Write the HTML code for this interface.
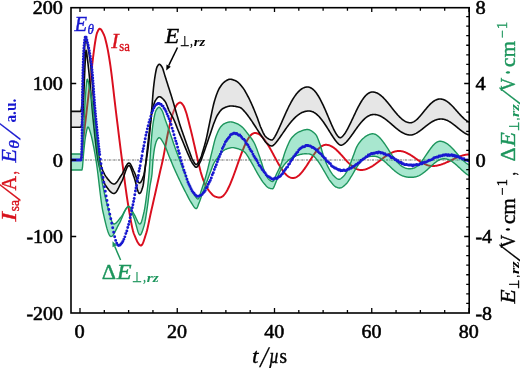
<!DOCTYPE html>
<html><head><meta charset="utf-8"><title>plot</title>
<style>html,body{margin:0;padding:0;background:#fff}svg{display:block}</style></head>
<body>
<svg width="520" height="368" viewBox="0 0 520 368">
<rect width="520" height="368" fill="#fff"/>
<clipPath id="c"><rect x="71.0" y="7.7" width="398.2" height="305.3"/></clipPath>
<g clip-path="url(#c)">
<line x1="71.0" y1="160.0" x2="469.2" y2="160.0" stroke="#111" stroke-width="0.65" stroke-dasharray="2.2 0.9 0.7 0.9"/>
<path d="M71.00,160.00 L71.50,160.00 L72.00,160.00 L72.50,160.00 L73.00,160.00 L73.50,160.00 L74.00,160.00 L74.50,160.00 L75.00,160.00 L75.50,160.00 L76.00,160.00 L76.50,160.00 L77.00,160.00 L77.50,160.00 L78.00,160.00 L78.50,160.00 L79.00,160.00 L79.50,160.00 L80.00,160.00 L80.50,159.55 L81.00,158.50 L81.50,155.88 L82.00,151.25 L82.50,145.86 L83.00,141.00 L83.50,136.92 L84.00,132.97 L84.50,129.03 L85.00,125.00 L85.50,120.82 L86.00,116.56 L86.50,112.27 L87.00,108.00 L87.50,103.73 L88.00,99.44 L88.50,95.18 L89.00,91.00 L89.50,86.95 L90.00,83.00 L90.50,79.05 L91.00,75.00 L91.50,70.77 L92.00,66.43 L92.50,62.12 L93.00,58.00 L93.50,53.98 L94.00,50.01 L94.50,46.28 L95.00,43.00 L95.50,39.98 L96.00,37.11 L96.50,34.68 L97.00,33.00 L97.50,31.82 L98.00,30.74 L98.50,29.83 L99.00,29.16 L99.50,28.80 L100.00,28.78 L100.50,29.03 L101.00,29.50 L101.50,30.14 L102.00,30.94 L102.50,31.86 L103.00,32.87 L103.50,33.92 L104.00,35.00 L104.50,36.25 L105.00,37.82 L105.50,39.64 L106.00,41.65 L106.50,43.79 L107.00,46.00 L107.50,48.35 L108.00,50.93 L108.50,53.71 L109.00,56.67 L109.50,59.77 L110.00,63.00 L110.50,66.41 L111.00,70.06 L111.50,73.92 L112.00,77.94 L112.50,82.10 L113.00,86.36 L113.50,90.68 L114.00,95.03 L114.50,99.37 L115.00,103.67 L115.50,107.89 L116.00,112.00 L116.50,116.05 L117.00,120.11 L117.50,124.17 L118.00,128.23 L118.50,132.28 L119.00,136.32 L119.50,140.35 L120.00,144.35 L120.50,148.32 L121.00,152.25 L121.50,156.15 L122.00,160.00 L122.50,163.85 L123.00,167.75 L123.50,171.66 L124.00,175.57 L124.50,179.45 L125.00,183.28 L125.50,187.04 L126.00,190.71 L126.50,194.26 L127.00,197.67 L127.50,200.93 L128.00,204.00 L128.50,206.99 L129.00,210.00 L129.50,213.00 L130.00,215.95 L130.50,218.82 L131.00,221.58 L131.50,224.20 L132.00,226.64 L132.50,228.87 L133.00,230.86 L133.50,232.58 L134.00,234.00 L134.50,235.25 L135.00,236.48 L135.50,237.68 L136.00,238.84 L136.50,239.94 L137.00,240.98 L137.50,241.94 L138.00,242.81 L138.50,243.59 L139.00,244.24 L139.50,244.77 L140.00,245.17 L140.50,245.42 L141.00,245.50 L141.50,245.31 L142.00,244.79 L142.50,243.97 L143.00,242.90 L143.50,241.64 L144.00,240.22 L144.50,238.70 L145.00,237.13 L145.50,235.55 L146.00,234.00 L146.50,232.36 L147.00,230.48 L147.50,228.41 L148.00,226.19 L148.50,223.86 L149.00,221.46 L149.50,219.03 L150.00,216.62 L150.50,214.26 L151.00,212.00 L151.50,209.80 L152.00,207.61 L152.50,205.42 L153.00,203.22 L153.50,201.03 L154.00,198.84 L154.50,196.64 L155.00,194.43 L155.50,192.22 L156.00,190.00 L156.50,187.76 L157.00,185.51 L157.50,183.25 L158.00,180.98 L158.50,178.72 L159.00,176.46 L159.50,174.22 L160.00,172.00 L160.50,169.84 L161.00,167.73 L161.50,165.64 L162.00,163.52 L162.50,161.32 L163.00,159.00 L163.50,156.51 L164.00,153.87 L164.50,151.14 L165.00,148.38 L165.50,145.65 L166.00,143.00 L166.50,140.41 L167.00,137.80 L167.50,135.23 L168.00,132.72 L168.50,130.30 L169.00,128.00 L169.50,125.79 L170.00,123.62 L170.50,121.53 L171.00,119.55 L171.50,117.69 L172.00,116.00 L172.50,114.43 L173.00,112.94 L173.50,111.54 L174.00,110.25 L174.50,109.06 L175.00,108.00 L175.50,107.02 L176.00,106.08 L176.50,105.23 L177.00,104.52 L177.50,104.00 L178.00,103.59 L178.50,103.21 L179.00,102.88 L179.50,102.64 L180.00,102.51 L180.50,102.54 L181.00,102.79 L181.50,103.20 L182.00,103.74 L182.50,104.36 L183.00,105.00 L183.50,105.77 L184.00,106.75 L184.50,107.91 L185.00,109.20 L185.50,110.58 L186.00,112.00 L186.50,113.54 L187.00,115.27 L187.50,117.13 L188.00,119.08 L188.50,121.05 L189.00,123.00 L189.50,124.93 L190.00,126.89 L190.50,128.87 L191.00,130.89 L191.50,132.93 L192.00,135.00 L192.50,137.11 L193.00,139.26 L193.50,141.44 L194.00,143.63 L194.50,145.82 L195.00,148.00 L195.50,150.18 L196.00,152.37 L196.50,154.56 L197.00,156.74 L197.50,158.89 L198.00,161.00 L198.50,163.10 L199.00,165.23 L199.50,167.33 L200.00,169.35 L200.50,171.26 L201.00,173.00 L201.50,174.62 L202.00,176.19 L202.50,177.69 L203.00,179.12 L203.50,180.48 L204.00,181.75 L204.50,182.93 L205.00,184.00 L205.50,185.00 L206.00,185.96 L206.50,186.87 L207.00,187.73 L207.50,188.56 L208.00,189.34 L208.50,190.07 L209.00,190.76 L209.50,191.40 L210.00,192.00 L210.50,192.58 L211.00,193.15 L211.50,193.71 L212.00,194.24 L212.50,194.75 L213.00,195.22 L213.50,195.63 L214.00,195.99 L214.50,196.28 L215.00,196.50 L215.50,196.67 L216.00,196.84 L216.50,196.99 L217.00,197.13 L217.50,197.26 L218.00,197.36 L218.50,197.43 L219.00,197.48 L219.50,197.50 L220.00,197.47 L220.50,197.37 L221.00,197.22 L221.50,197.00 L222.00,196.71 L222.50,196.37 L223.00,195.97 L223.50,195.50 L224.00,194.98 L224.50,194.39 L225.00,193.75 L225.50,193.06 L226.00,192.31 L226.50,191.51 L227.00,190.65 L227.50,189.75 L228.00,188.80 L228.50,187.80 L229.00,186.76 L229.50,185.67 L230.00,184.55 L230.50,183.39 L231.00,182.19 L231.50,180.96 L232.00,179.70 L232.50,178.41 L233.00,177.10 L233.50,175.76 L234.00,174.40 L234.50,173.02 L235.00,171.63 L235.50,170.22 L236.00,168.81 L236.50,167.39 L237.00,165.96 L237.50,164.54 L238.00,163.11 L238.50,161.69 L239.00,160.28 L239.50,158.87 L240.00,157.48 L240.50,156.10 L241.00,154.74 L241.50,153.40 L242.00,152.09 L242.50,150.80 L243.00,149.54 L243.50,148.31 L244.00,147.11 L244.50,145.95 L245.00,144.83 L245.50,143.74 L246.00,142.70 L246.50,141.70 L247.00,140.75 L247.50,139.85 L248.00,138.99 L248.50,138.19 L249.00,137.44 L249.50,136.75 L250.00,136.11 L250.50,135.52 L251.00,135.00 L251.50,134.53 L252.00,134.13 L252.50,133.79 L253.00,133.50 L253.50,133.28 L254.00,133.13 L254.50,133.03 L255.00,133.00 L255.50,133.02 L256.00,133.08 L256.50,133.17 L257.00,133.31 L257.50,133.48 L258.00,133.70 L258.50,133.95 L259.00,134.23 L259.50,134.56 L260.00,134.91 L260.50,135.31 L261.00,135.74 L261.50,136.20 L262.00,136.70 L262.50,137.23 L263.00,137.79 L263.50,138.38 L264.00,139.01 L264.50,139.66 L265.00,140.33 L265.50,141.04 L266.00,141.77 L266.50,142.52 L267.00,143.29 L267.50,144.09 L268.00,144.90 L268.50,145.74 L269.00,146.59 L269.50,147.45 L270.00,148.33 L270.50,149.23 L271.00,150.13 L271.50,151.04 L272.00,151.96 L272.50,152.89 L273.00,153.82 L273.50,154.75 L274.00,155.69 L274.50,156.62 L275.00,157.55 L275.50,158.48 L276.00,159.41 L276.50,160.32 L277.00,161.23 L277.50,162.13 L278.00,163.02 L278.50,163.89 L279.00,164.75 L279.50,165.60 L280.00,166.42 L280.50,167.23 L281.00,168.02 L281.50,168.79 L282.00,169.53 L282.50,170.25 L283.00,170.94 L283.50,171.61 L284.00,172.25 L284.50,172.86 L285.00,173.44 L285.50,173.98 L286.00,174.50 L286.50,174.99 L287.00,175.44 L287.50,175.85 L288.00,176.23 L288.50,176.58 L289.00,176.89 L289.50,177.16 L290.00,177.39 L290.50,177.59 L291.00,177.75 L291.50,177.87 L292.00,177.95 L292.50,177.99 L292.80,178.00 L293.30,177.98 L293.80,177.93 L294.30,177.83 L294.80,177.70 L295.30,177.54 L295.80,177.34 L296.30,177.10 L296.80,176.83 L297.30,176.52 L297.80,176.18 L298.30,175.80 L298.80,175.40 L299.30,174.96 L299.80,174.49 L300.30,173.99 L300.80,173.47 L301.30,172.91 L301.80,172.34 L302.30,171.73 L302.80,171.11 L303.30,170.46 L303.80,169.79 L304.30,169.10 L304.80,168.40 L305.30,167.68 L305.80,166.95 L306.30,166.20 L306.80,165.44 L307.30,164.68 L307.80,163.90 L308.30,163.12 L308.80,162.34 L309.30,161.56 L309.80,160.77 L310.30,159.99 L310.80,159.21 L311.30,158.43 L311.80,157.66 L312.30,156.90 L312.80,156.15 L313.30,155.41 L313.80,154.69 L314.30,153.98 L314.80,153.28 L315.30,152.61 L315.80,151.95 L316.30,151.32 L316.80,150.70 L317.30,150.11 L317.80,149.55 L318.30,149.01 L318.80,148.51 L319.30,148.03 L319.80,147.58 L320.30,147.16 L320.80,146.77 L321.30,146.41 L321.80,146.09 L322.30,145.81 L322.80,145.56 L323.30,145.34 L323.80,145.16 L324.30,145.01 L324.80,144.91 L325.30,144.84 L325.80,144.80 L326.00,144.80 L326.50,144.81 L327.00,144.85 L327.50,144.91 L328.00,145.00 L328.50,145.12 L329.00,145.25 L329.50,145.42 L330.00,145.60 L330.50,145.81 L331.00,146.05 L331.50,146.30 L332.00,146.58 L332.50,146.88 L333.00,147.21 L333.50,147.55 L334.00,147.91 L334.50,148.29 L335.00,148.69 L335.50,149.11 L336.00,149.54 L336.50,149.99 L337.00,150.46 L337.50,150.94 L338.00,151.43 L338.50,151.93 L339.00,152.45 L339.50,152.97 L340.00,153.51 L340.50,154.05 L341.00,154.60 L341.50,155.15 L342.00,155.71 L342.50,156.27 L343.00,156.83 L343.50,157.40 L344.00,157.97 L344.50,158.53 L345.00,159.09 L345.50,159.65 L346.00,160.20 L346.50,160.75 L347.00,161.29 L347.50,161.83 L348.00,162.35 L348.50,162.87 L349.00,163.37 L349.50,163.86 L350.00,164.34 L350.50,164.81 L351.00,165.26 L351.50,165.69 L352.00,166.11 L352.50,166.51 L353.00,166.89 L353.50,167.25 L354.00,167.59 L354.50,167.92 L355.00,168.22 L355.50,168.50 L356.00,168.75 L356.50,168.99 L357.00,169.20 L357.50,169.38 L358.00,169.55 L358.50,169.68 L359.00,169.80 L359.50,169.89 L360.00,169.95 L360.50,169.99 L361.00,170.00 L361.50,169.99 L362.00,169.97 L362.50,169.93 L363.00,169.87 L363.50,169.80 L364.00,169.71 L364.50,169.61 L365.00,169.49 L365.50,169.35 L366.00,169.20 L366.50,169.03 L367.00,168.86 L367.50,168.66 L368.00,168.45 L368.50,168.23 L369.00,168.00 L369.50,167.75 L370.00,167.49 L370.50,167.22 L371.00,166.93 L371.50,166.64 L372.00,166.34 L372.50,166.02 L373.00,165.70 L373.50,165.36 L374.00,165.02 L374.50,164.67 L375.00,164.32 L375.50,163.95 L376.00,163.58 L376.50,163.21 L377.00,162.83 L377.50,162.45 L378.00,162.06 L378.50,161.68 L379.00,161.28 L379.50,160.89 L380.00,160.50 L380.50,160.11 L381.00,159.72 L381.50,159.32 L382.00,158.94 L382.50,158.55 L383.00,158.17 L383.50,157.79 L384.00,157.42 L384.50,157.05 L385.00,156.68 L385.50,156.33 L386.00,155.98 L386.50,155.64 L387.00,155.30 L387.50,154.98 L388.00,154.66 L388.50,154.36 L389.00,154.07 L389.50,153.78 L390.00,153.51 L390.50,153.25 L391.00,153.00 L391.50,152.77 L392.00,152.55 L392.50,152.34 L393.00,152.14 L393.50,151.97 L394.00,151.80 L394.50,151.65 L395.00,151.51 L395.50,151.39 L396.00,151.29 L396.50,151.20 L397.00,151.13 L397.50,151.07 L398.00,151.03 L398.50,151.01 L399.00,151.00 L399.50,151.01 L400.00,151.03 L400.50,151.07 L401.00,151.13 L401.50,151.21 L402.00,151.29 L402.50,151.40 L403.00,151.52 L403.50,151.66 L404.00,151.81 L404.50,151.98 L405.00,152.16 L405.50,152.35 L406.00,152.56 L406.50,152.78 L407.00,153.01 L407.50,153.26 L408.00,153.52 L408.50,153.78 L409.00,154.06 L409.50,154.35 L410.00,154.65 L410.50,154.95 L411.00,155.27 L411.50,155.59 L412.00,155.92 L412.50,156.25 L413.00,156.59 L413.50,156.93 L414.00,157.27 L414.50,157.62 L415.00,157.97 L415.50,158.32 L416.00,158.68 L416.50,159.03 L417.00,159.38 L417.50,159.73 L418.00,160.07 L418.50,160.41 L419.00,160.75 L419.50,161.08 L420.00,161.41 L420.50,161.73 L421.00,162.05 L421.50,162.35 L422.00,162.65 L422.50,162.94 L423.00,163.22 L423.50,163.48 L424.00,163.74 L424.50,163.99 L425.00,164.22 L425.50,164.44 L426.00,164.65 L426.50,164.84 L427.00,165.02 L427.50,165.19 L428.00,165.34 L428.50,165.48 L429.00,165.60 L429.50,165.71 L430.00,165.79 L430.50,165.87 L431.00,165.93 L431.50,165.97 L432.00,165.99 L432.50,166.00 L433.00,165.99 L433.50,165.98 L434.00,165.95 L434.50,165.92 L435.00,165.87 L435.50,165.82 L436.00,165.75 L436.50,165.68 L437.00,165.59 L437.50,165.50 L438.00,165.40 L438.50,165.28 L439.00,165.16 L439.50,165.03 L440.00,164.89 L440.50,164.75 L441.00,164.59 L441.50,164.43 L442.00,164.26 L442.50,164.08 L443.00,163.90 L443.50,163.71 L444.00,163.51 L444.50,163.31 L445.00,163.10 L445.50,162.89 L446.00,162.67 L446.50,162.45 L447.00,162.22 L447.50,161.99 L448.00,161.76 L448.50,161.52 L449.00,161.29 L449.50,161.05 L450.00,160.81 L450.50,160.56 L451.00,160.32 L451.50,160.08 L452.00,159.84 L452.50,159.59 L453.00,159.35 L453.50,159.11 L454.00,158.88 L454.50,158.64 L455.00,158.41 L455.50,158.18 L456.00,157.95 L456.50,157.73 L457.00,157.51 L457.50,157.30 L458.00,157.09 L458.50,156.89 L459.00,156.69 L459.50,156.50 L460.00,156.32 L460.50,156.14 L461.00,155.97 L461.50,155.81 L462.00,155.65 L462.50,155.51 L463.00,155.37 L463.50,155.24 L464.00,155.12 L464.50,155.00 L465.00,154.90 L465.50,154.81 L466.00,154.72 L466.50,154.65 L467.00,154.58 L467.50,154.53 L468.00,154.48 L468.50,154.45 L469.00,154.42" fill="none" stroke="#da0e1e" stroke-width="1.95" stroke-linejoin="round"/>
<path d="M71.00,111.40 L71.50,111.40 L72.00,111.40 L72.50,111.40 L73.00,111.40 L73.50,111.40 L74.00,111.40 L74.50,111.40 L75.00,111.40 L75.50,111.40 L76.00,111.40 L76.50,111.40 L77.00,111.40 L77.50,111.40 L78.00,111.40 L78.50,111.40 L79.00,111.40 L79.50,111.40 L80.00,111.40 L80.50,111.40 L81.00,110.73 L81.50,108.21 L82.00,104.14 L82.50,98.47 L83.00,82.96 L83.50,67.59 L84.00,56.25 L84.50,48.00 L85.00,42.33 L85.50,38.30 L86.00,37.67 L86.50,39.31 L87.00,41.89 L87.50,44.49 L88.00,47.05 L88.50,49.82 L89.00,52.83 L89.50,56.10 L90.00,59.65 L90.50,63.52 L91.00,67.79 L91.50,73.05 L92.00,79.15 L92.50,85.81 L93.00,92.73 L93.50,99.60 L94.00,106.12 L94.50,112.00 L95.00,117.58 L95.50,123.33 L96.00,129.12 L96.50,134.83 L97.00,140.31 L97.50,145.46 L98.00,150.13 L98.50,154.19 L99.00,157.53 L99.50,160.00 L100.00,161.93 L100.50,163.73 L101.00,165.41 L101.50,166.97 L102.00,168.41 L102.50,169.75 L103.00,170.99 L103.50,172.13 L104.00,173.19 L104.50,174.16 L105.00,175.06 L105.50,175.88 L106.00,176.64 L106.50,177.35 L107.00,178.00 L107.50,178.63 L108.00,179.26 L108.50,179.87 L109.00,180.47 L109.50,181.05 L110.00,181.59 L110.50,182.10 L111.00,182.56 L111.50,182.97 L112.00,183.32 L112.50,183.61 L113.00,183.82 L113.50,183.95 L114.00,184.00 L114.50,183.93 L115.00,183.72 L115.50,183.39 L116.00,182.96 L116.50,182.43 L117.00,181.82 L117.50,181.14 L118.00,180.42 L118.50,179.65 L119.00,178.86 L119.50,178.05 L120.00,177.25 L120.50,176.47 L121.00,175.71 L121.50,175.00 L122.00,174.25 L122.50,173.39 L123.00,172.44 L123.50,171.42 L124.00,170.37 L124.50,169.29 L125.00,168.23 L125.50,167.21 L126.00,166.24 L126.50,165.35 L127.00,164.57 L127.50,163.92 L128.00,163.42 L128.50,163.11 L129.00,163.00 L129.50,163.15 L130.00,163.58 L130.50,164.25 L131.00,165.09 L131.50,166.08 L132.00,167.16 L132.50,168.29 L133.00,169.42 L133.50,170.50 L134.00,171.50 L134.50,172.54 L135.00,173.76 L135.50,175.08 L136.00,176.47 L136.50,177.86 L137.00,179.19 L137.50,180.41 L138.00,181.46 L138.50,182.28 L139.00,182.81 L139.50,183.00 L140.00,182.85 L140.50,182.43 L141.00,181.76 L141.50,180.89 L142.00,179.84 L142.50,178.66 L143.00,177.36 L143.50,176.00 L144.00,174.14 L144.50,171.54 L145.00,168.46 L145.50,165.19 L146.00,162.00 L146.50,158.95 L147.00,155.82 L147.50,152.48 L148.00,148.79 L148.50,144.56 L149.00,139.71 L149.50,134.47 L150.00,129.08 L150.50,123.59 L151.00,117.84 L151.50,111.93 L152.00,106.00 L152.50,99.74 L153.00,93.40 L153.50,88.00 L154.00,83.63 L154.50,79.74 L155.00,76.35 L155.50,73.45 L156.00,70.77 L156.50,68.48 L157.00,67.00 L157.50,66.11 L158.00,65.35 L158.50,64.76 L159.00,64.40 L159.50,64.31 L160.00,64.50 L160.50,64.93 L161.00,65.53 L161.50,66.24 L162.00,67.00 L162.50,67.98 L163.00,69.33 L163.50,70.92 L164.00,72.64 L164.50,74.37 L165.00,76.00 L165.50,77.54 L166.00,79.10 L166.50,80.68 L167.00,82.26 L167.50,83.84 L168.00,85.42 L168.50,87.00 L169.00,88.56 L169.50,90.11 L170.00,91.66 L170.50,93.22 L171.00,94.79 L171.50,96.38 L172.00,98.00 L172.50,99.66 L173.00,101.36 L173.50,103.09 L174.00,104.83 L174.50,106.56 L175.00,108.29 L175.50,110.00 L176.00,111.70 L176.50,113.40 L177.00,115.11 L177.50,116.81 L178.00,118.50 L178.50,120.18 L179.00,121.82 L179.50,123.43 L180.00,125.00 L180.50,126.53 L181.00,128.02 L181.50,129.49 L182.00,130.93 L182.50,132.36 L183.00,133.77 L183.50,135.18 L184.00,136.59 L184.50,138.00 L185.00,139.42 L185.50,140.84 L186.00,142.25 L186.50,143.66 L187.00,145.06 L187.50,146.45 L188.00,147.82 L188.50,149.17 L189.00,150.50 L189.50,151.85 L190.00,153.23 L190.50,154.63 L191.00,155.99 L191.50,157.30 L192.00,158.50 L192.50,159.58 L193.00,160.50 L193.50,161.35 L194.00,162.21 L194.50,163.01 L195.00,163.70 L195.50,164.21 L196.00,164.47 L196.50,164.45 L197.00,164.17 L197.50,163.68 L198.00,163.02 L198.50,162.21 L199.00,161.32 L199.50,160.36 L200.00,159.39 L200.50,158.37 L201.00,157.11 L201.50,155.64 L202.00,154.03 L202.50,152.34 L203.00,150.66 L203.50,149.02 L204.00,147.35 L204.50,145.62 L205.00,143.84 L205.50,141.97 L206.00,140.00 L206.50,137.89 L207.00,135.62 L207.50,133.23 L208.00,130.78 L208.50,128.28 L209.00,125.80 L209.50,123.35 L210.00,121.00 L210.50,118.66 L211.00,116.27 L211.50,113.85 L212.00,111.45 L212.50,109.11 L213.00,106.85 L213.50,104.72 L214.00,102.76 L214.50,101.00 L215.00,99.37 L215.50,97.80 L216.00,96.28 L216.50,94.84 L217.00,93.46 L217.50,92.17 L218.00,90.97 L218.50,89.87 L219.00,88.88 L219.50,88.00 L220.00,87.20 L220.50,86.44 L221.00,85.71 L221.50,85.02 L222.00,84.38 L222.50,83.78 L223.00,83.22 L223.50,82.71 L224.00,82.26 L224.50,81.85 L225.00,81.50 L225.50,81.17 L226.00,80.85 L226.50,80.54 L227.00,80.24 L227.50,79.97 L228.00,79.73 L228.50,79.53 L229.00,79.38 L229.50,79.28 L230.00,79.25 L230.50,79.27 L231.00,79.32 L231.50,79.40 L232.00,79.51 L232.50,79.64 L233.00,79.79 L233.50,79.96 L234.00,80.15 L234.50,80.35 L235.00,80.56 L235.50,80.78 L236.00,81.00 L236.50,81.25 L237.00,81.56 L237.50,81.91 L238.00,82.31 L238.50,82.75 L239.00,83.23 L239.50,83.74 L240.00,84.28 L240.50,84.85 L241.00,85.43 L241.50,86.03 L242.00,86.64 L242.50,87.25 L243.00,87.90 L243.50,88.60 L244.00,89.36 L244.50,90.16 L245.00,91.00 L245.50,91.87 L246.00,92.77 L246.50,93.69 L247.00,94.62 L247.50,95.56 L248.00,96.50 L248.50,97.46 L249.00,98.44 L249.50,99.46 L250.00,100.50 L250.50,101.57 L251.00,102.65 L251.50,103.76 L252.00,104.87 L252.50,106.00 L253.00,107.15 L253.50,108.31 L254.00,109.51 L254.50,110.72 L255.00,111.95 L255.50,113.19 L256.00,114.45 L256.50,115.72 L257.00,117.00 L257.50,118.33 L258.00,119.72 L258.50,121.16 L259.00,122.61 L259.50,124.04 L260.00,125.42 L260.50,126.73 L261.00,127.94 L261.50,129.04 L262.00,130.14 L262.50,131.23 L263.00,132.30 L263.50,133.31 L264.00,134.27 L264.50,135.13 L265.00,135.89 L265.50,136.52 L266.00,137.00 L266.50,137.39 L267.00,137.78 L267.50,138.14 L268.00,138.49 L268.50,138.81 L269.00,139.10 L269.50,139.36 L270.00,139.58 L270.50,139.76 L271.00,139.89 L271.50,139.97 L272.00,140.00 L272.50,139.72 L273.00,139.24 L273.50,138.64 L274.00,137.95 L274.50,137.19 L275.00,136.36 L275.50,135.48 L276.00,134.56 L276.50,133.60 L277.00,132.60 L277.50,131.57 L278.00,130.52 L278.50,129.44 L279.00,128.35 L279.50,127.24 L280.00,126.12 L280.50,124.99 L281.00,123.85 L281.50,122.71 L282.00,121.56 L282.50,120.41 L283.00,119.27 L283.50,118.13 L284.00,116.99 L284.50,115.86 L285.00,114.74 L285.50,113.62 L286.00,112.52 L286.50,111.43 L287.00,110.36 L287.50,109.30 L288.00,108.26 L288.50,107.23 L289.00,106.23 L289.50,105.24 L290.00,104.27 L290.50,103.32 L291.00,102.40 L291.50,101.50 L292.00,100.62 L292.50,99.76 L293.00,98.94 L293.50,98.13 L294.00,97.35 L294.50,96.60 L295.00,95.87 L295.50,95.18 L296.00,94.51 L296.50,93.86 L297.00,93.25 L297.50,92.66 L298.00,92.10 L298.50,91.57 L299.00,91.07 L299.50,90.60 L300.00,90.16 L300.50,89.75 L301.00,89.37 L301.50,89.01 L302.00,88.69 L302.50,88.39 L303.00,88.12 L303.50,87.88 L304.00,87.68 L304.50,87.49 L305.00,87.34 L305.50,87.22 L306.00,87.12 L306.50,87.05 L307.00,87.01 L307.50,87.00 L308.00,87.02 L308.50,87.08 L309.00,87.17 L309.50,87.31 L310.00,87.48 L310.50,87.69 L311.00,87.94 L311.50,88.24 L312.00,88.57 L312.50,88.93 L313.00,89.34 L313.50,89.79 L314.00,90.27 L314.50,90.80 L315.00,91.36 L315.50,91.96 L316.00,92.59 L316.50,93.26 L317.00,93.97 L317.50,94.71 L318.00,95.48 L318.50,96.29 L319.00,97.13 L319.50,98.00 L320.00,98.90 L320.50,99.83 L321.00,100.79 L321.50,101.78 L322.00,102.79 L322.50,103.82 L323.00,104.88 L323.50,105.96 L324.00,107.05 L324.50,108.17 L325.00,109.30 L325.50,110.44 L326.00,111.59 L326.50,112.76 L327.00,113.93 L327.50,115.11 L328.00,116.29 L328.50,117.48 L329.00,118.66 L329.50,119.84 L330.00,121.01 L330.50,122.17 L331.00,123.32 L331.50,124.46 L332.00,125.58 L332.50,126.68 L333.00,127.75 L333.50,128.80 L334.00,129.81 L334.50,130.79 L335.00,131.74 L335.50,132.64 L336.00,133.49 L336.50,134.29 L337.00,135.03 L337.50,135.71 L338.00,136.32 L338.50,136.84 L339.00,137.27 L339.50,137.59 L340.00,137.75 L340.50,137.66 L341.00,137.45 L341.50,137.15 L342.00,136.77 L342.50,136.32 L343.00,135.81 L343.50,135.24 L344.00,134.62 L344.50,133.94 L345.00,133.22 L345.50,132.46 L346.00,131.65 L346.50,130.81 L347.00,129.94 L347.50,129.03 L348.00,128.10 L348.50,127.14 L349.00,126.16 L349.50,125.16 L350.00,124.14 L350.50,123.11 L351.00,122.07 L351.50,121.01 L352.00,119.95 L352.50,118.89 L353.00,117.82 L353.50,116.75 L354.00,115.68 L354.50,114.62 L355.00,113.56 L355.50,112.51 L356.00,111.47 L356.50,110.45 L357.00,109.43 L357.50,108.43 L358.00,107.45 L358.50,106.49 L359.00,105.55 L359.50,104.63 L360.00,103.74 L360.50,102.87 L361.00,102.02 L361.50,101.21 L362.00,100.42 L362.50,99.66 L363.00,98.94 L363.50,98.24 L364.00,97.58 L364.50,96.96 L365.00,96.36 L365.50,95.81 L366.00,95.29 L366.50,94.80 L367.00,94.36 L367.50,93.95 L368.00,93.58 L368.50,93.25 L369.00,92.96 L369.50,92.70 L370.00,92.49 L370.50,92.31 L371.00,92.17 L371.50,92.08 L372.00,92.02 L372.50,92.00 L373.00,92.01 L373.50,92.05 L374.00,92.12 L374.50,92.21 L375.00,92.33 L375.50,92.47 L376.00,92.64 L376.50,92.83 L377.00,93.05 L377.50,93.29 L378.00,93.56 L378.50,93.85 L379.00,94.17 L379.50,94.50 L380.00,94.86 L380.50,95.24 L381.00,95.64 L381.50,96.06 L382.00,96.50 L382.50,96.96 L383.00,97.44 L383.50,97.93 L384.00,98.44 L384.50,98.97 L385.00,99.50 L385.50,100.06 L386.00,100.62 L386.50,101.20 L387.00,101.79 L387.50,102.38 L388.00,102.99 L388.50,103.60 L389.00,104.22 L389.50,104.84 L390.00,105.47 L390.50,106.11 L391.00,106.74 L391.50,107.38 L392.00,108.01 L392.50,108.64 L393.00,109.28 L393.50,109.91 L394.00,110.53 L394.50,111.15 L395.00,111.76 L395.50,112.37 L396.00,112.96 L396.50,113.55 L397.00,114.13 L397.50,114.69 L398.00,115.25 L398.50,115.78 L399.00,116.31 L399.50,116.82 L400.00,117.31 L400.50,117.79 L401.00,118.25 L401.50,118.69 L402.00,119.11 L402.50,119.51 L403.00,119.89 L403.50,120.25 L404.00,120.58 L404.50,120.90 L405.00,121.19 L405.50,121.46 L406.00,121.70 L406.50,121.92 L407.00,122.11 L407.50,122.28 L408.00,122.42 L408.50,122.54 L409.00,122.63 L409.50,122.70 L410.00,122.74 L410.50,122.75 L411.00,122.72 L411.50,122.63 L412.00,122.51 L412.50,122.34 L413.00,122.13 L413.50,121.89 L414.00,121.61 L414.50,121.30 L415.00,120.95 L415.50,120.58 L416.00,120.18 L416.50,119.76 L417.00,119.31 L417.50,118.83 L418.00,118.34 L418.50,117.82 L419.00,117.29 L419.50,116.74 L420.00,116.18 L420.50,115.60 L421.00,115.02 L421.50,114.42 L422.00,113.82 L422.50,113.21 L423.00,112.59 L423.50,111.97 L424.00,111.35 L424.50,110.74 L425.00,110.12 L425.50,109.51 L426.00,108.90 L426.50,108.30 L427.00,107.71 L427.50,107.13 L428.00,106.55 L428.50,106.00 L429.00,105.45 L429.50,104.92 L430.00,104.41 L430.50,103.91 L431.00,103.44 L431.50,102.98 L432.00,102.54 L432.50,102.13 L433.00,101.74 L433.50,101.37 L434.00,101.03 L434.50,100.71 L435.00,100.42 L435.50,100.15 L436.00,99.91 L436.50,99.70 L437.00,99.51 L437.50,99.36 L438.00,99.23 L438.50,99.13 L439.00,99.06 L439.50,99.01 L440.00,99.00 L440.50,99.01 L441.00,99.05 L441.50,99.12 L442.00,99.20 L442.50,99.32 L443.00,99.46 L443.50,99.62 L444.00,99.81 L444.50,100.03 L445.00,100.26 L445.50,100.53 L446.00,100.81 L446.50,101.12 L447.00,101.44 L447.50,101.79 L448.00,102.16 L448.50,102.55 L449.00,102.96 L449.50,103.39 L450.00,103.83 L450.50,104.29 L451.00,104.76 L451.50,105.25 L452.00,105.75 L452.50,106.27 L453.00,106.79 L453.50,107.32 L454.00,107.87 L454.50,108.42 L455.00,108.97 L455.50,109.53 L456.00,110.10 L456.50,110.67 L457.00,111.24 L457.50,111.80 L458.00,112.37 L458.50,112.93 L459.00,113.49 L459.50,114.05 L460.00,114.60 L460.50,115.14 L461.00,115.67 L461.50,116.19 L462.00,116.69 L462.50,117.19 L463.00,117.67 L463.50,118.13 L464.00,118.58 L464.50,119.01 L465.00,119.42 L465.50,119.80 L466.00,120.17 L466.50,120.52 L467.00,120.84 L467.50,121.13 L468.00,121.40 L468.50,121.65 L469.00,121.86 L469.00,135.02 L468.50,134.86 L468.00,134.68 L467.50,134.48 L467.00,134.26 L466.50,134.02 L466.00,133.77 L465.50,133.49 L465.00,133.21 L464.50,132.90 L464.00,132.59 L463.50,132.25 L463.00,131.91 L462.50,131.56 L462.00,131.19 L461.50,130.82 L461.00,130.44 L460.50,130.05 L460.00,129.65 L459.50,129.25 L459.00,128.85 L458.50,128.44 L458.00,128.03 L457.50,127.62 L457.00,127.20 L456.50,126.79 L456.00,126.38 L455.50,125.98 L455.00,125.57 L454.50,125.18 L454.00,124.78 L453.50,124.40 L453.00,124.02 L452.50,123.65 L452.00,123.29 L451.50,122.94 L451.00,122.60 L450.50,122.27 L450.00,121.95 L449.50,121.65 L449.00,121.36 L448.50,121.09 L448.00,120.83 L447.50,120.58 L447.00,120.35 L446.50,120.14 L446.00,119.95 L445.50,119.77 L445.00,119.61 L444.50,119.47 L444.00,119.34 L443.50,119.24 L443.00,119.15 L442.50,119.09 L442.00,119.04 L441.50,119.01 L441.00,119.00 L440.50,119.01 L440.00,119.04 L439.50,119.08 L439.00,119.14 L438.50,119.22 L438.00,119.32 L437.50,119.44 L437.00,119.57 L436.50,119.73 L436.00,119.89 L435.50,120.08 L435.00,120.28 L434.50,120.50 L434.00,120.73 L433.50,120.98 L433.00,121.24 L432.50,121.52 L432.00,121.81 L431.50,122.11 L431.00,122.42 L430.50,122.75 L430.00,123.09 L429.50,123.44 L429.00,123.79 L428.50,124.16 L428.00,124.53 L427.50,124.91 L427.00,125.30 L426.50,125.69 L426.00,126.09 L425.50,126.48 L425.00,126.89 L424.50,127.29 L424.00,127.69 L423.50,128.09 L423.00,128.50 L422.50,128.89 L422.00,129.29 L421.50,129.68 L421.00,130.06 L420.50,130.44 L420.00,130.81 L419.50,131.17 L419.00,131.52 L418.50,131.86 L418.00,132.19 L417.50,132.51 L417.00,132.81 L416.50,133.10 L416.00,133.37 L415.50,133.62 L415.00,133.86 L414.50,134.08 L414.00,134.28 L413.50,134.45 L413.00,134.61 L412.50,134.74 L412.00,134.85 L411.50,134.93 L411.00,134.98 L410.50,135.00 L410.25,135.00 L409.75,134.98 L409.25,134.94 L408.75,134.89 L408.25,134.81 L407.75,134.72 L407.25,134.61 L406.75,134.48 L406.25,134.33 L405.75,134.17 L405.25,133.98 L404.75,133.79 L404.25,133.57 L403.75,133.34 L403.25,133.09 L402.75,132.83 L402.25,132.55 L401.75,132.26 L401.25,131.96 L400.75,131.64 L400.25,131.31 L399.75,130.97 L399.25,130.61 L398.75,130.25 L398.25,129.88 L397.75,129.49 L397.25,129.10 L396.75,128.70 L396.25,128.29 L395.75,127.88 L395.25,127.46 L394.75,127.03 L394.25,126.60 L393.75,126.17 L393.25,125.73 L392.75,125.30 L392.25,124.86 L391.75,124.42 L391.25,123.98 L390.75,123.55 L390.25,123.11 L389.75,122.68 L389.25,122.26 L388.75,121.83 L388.25,121.42 L387.75,121.01 L387.25,120.60 L386.75,120.20 L386.25,119.82 L385.75,119.44 L385.25,119.07 L384.75,118.71 L384.25,118.36 L383.75,118.02 L383.25,117.70 L382.75,117.39 L382.25,117.09 L381.75,116.80 L381.25,116.54 L380.75,116.28 L380.25,116.04 L379.75,115.82 L379.25,115.61 L378.75,115.42 L378.25,115.25 L377.75,115.09 L377.25,114.96 L376.75,114.84 L376.25,114.73 L375.75,114.65 L375.25,114.58 L374.75,114.54 L374.25,114.51 L373.75,114.50 L373.50,114.50 L373.00,114.53 L372.50,114.58 L372.00,114.66 L371.50,114.76 L371.00,114.89 L370.50,115.04 L370.00,115.23 L369.50,115.43 L369.00,115.66 L368.50,115.92 L368.00,116.21 L367.50,116.51 L367.00,116.85 L366.50,117.20 L366.00,117.58 L365.50,117.99 L365.00,118.41 L364.50,118.86 L364.00,119.33 L363.50,119.82 L363.00,120.33 L362.50,120.87 L362.00,121.42 L361.50,121.99 L361.00,122.57 L360.50,123.17 L360.00,123.79 L359.50,124.42 L359.00,125.07 L358.50,125.72 L358.00,126.39 L357.50,127.07 L357.00,127.76 L356.50,128.45 L356.00,129.15 L355.50,129.86 L355.00,130.57 L354.50,131.28 L354.00,132.00 L353.50,132.71 L353.00,133.42 L352.50,134.13 L352.00,134.83 L351.50,135.52 L351.00,136.21 L350.50,136.89 L350.00,137.55 L349.50,138.21 L349.00,138.84 L348.50,139.46 L348.00,140.06 L347.50,140.65 L347.00,141.20 L346.50,141.74 L346.00,142.25 L345.50,142.72 L345.00,143.17 L344.50,143.59 L344.00,143.96 L343.50,144.30 L343.00,144.60 L342.50,144.85 L342.00,145.05 L341.50,145.19 L341.00,145.25 L340.75,145.21 L340.25,145.04 L339.75,144.79 L339.25,144.46 L338.75,144.07 L338.25,143.63 L337.75,143.15 L337.25,142.62 L336.75,142.05 L336.25,141.45 L335.75,140.83 L335.25,140.17 L334.75,139.49 L334.25,138.78 L333.75,138.06 L333.25,137.32 L332.75,136.56 L332.25,135.79 L331.75,135.01 L331.25,134.23 L330.75,133.43 L330.25,132.63 L329.75,131.83 L329.25,131.02 L328.75,130.22 L328.25,129.42 L327.75,128.62 L327.25,127.82 L326.75,127.04 L326.25,126.26 L325.75,125.48 L325.25,124.72 L324.75,123.98 L324.25,123.24 L323.75,122.52 L323.25,121.81 L322.75,121.12 L322.25,120.45 L321.75,119.79 L321.25,119.15 L320.75,118.54 L320.25,117.94 L319.75,117.37 L319.25,116.81 L318.75,116.28 L318.25,115.77 L317.75,115.29 L317.25,114.83 L316.75,114.40 L316.25,113.99 L315.75,113.60 L315.25,113.24 L314.75,112.91 L314.25,112.61 L313.75,112.33 L313.25,112.07 L312.75,111.85 L312.25,111.65 L311.75,111.47 L311.25,111.33 L310.75,111.21 L310.25,111.12 L309.75,111.05 L309.25,111.01 L308.75,111.00 L308.50,111.00 L308.00,111.02 L307.50,111.05 L307.00,111.10 L306.50,111.17 L306.00,111.26 L305.50,111.36 L305.00,111.48 L304.50,111.62 L304.00,111.77 L303.50,111.94 L303.00,112.14 L302.50,112.34 L302.00,112.57 L301.50,112.82 L301.00,113.08 L300.50,113.36 L300.00,113.66 L299.50,113.98 L299.00,114.31 L298.50,114.66 L298.00,115.03 L297.50,115.42 L297.00,115.83 L296.50,116.25 L296.00,116.69 L295.50,117.15 L295.00,117.62 L294.50,118.11 L294.00,118.61 L293.50,119.13 L293.00,119.67 L292.50,120.22 L292.00,120.79 L291.50,121.37 L291.00,121.96 L290.50,122.57 L290.00,123.19 L289.50,123.82 L289.00,124.47 L288.50,125.12 L288.00,125.79 L287.50,126.47 L287.00,127.15 L286.50,127.84 L286.00,128.55 L285.50,129.26 L285.00,129.97 L284.50,130.69 L284.00,131.42 L283.50,132.14 L283.00,132.87 L282.50,133.61 L282.00,134.34 L281.50,135.07 L281.00,135.79 L280.50,136.52 L280.00,137.24 L279.50,137.95 L279.00,138.65 L278.50,139.34 L278.00,140.02 L277.50,140.69 L277.00,141.34 L276.50,141.97 L276.00,142.58 L275.50,143.16 L275.00,143.71 L274.50,144.23 L274.00,144.71 L273.50,145.14 L273.00,145.52 L272.50,145.82 L272.00,146.00 L271.50,145.96 L271.00,145.86 L270.50,145.69 L270.00,145.47 L269.50,145.21 L269.00,144.91 L268.50,144.58 L268.00,144.23 L267.50,143.87 L267.00,143.50 L266.50,143.07 L266.00,142.54 L265.50,141.93 L265.00,141.25 L264.50,140.52 L264.00,139.76 L263.50,138.99 L263.00,138.23 L262.50,137.50 L262.00,136.78 L261.50,136.05 L261.00,135.31 L260.50,134.55 L260.00,133.78 L259.50,133.01 L259.00,132.23 L258.50,131.45 L258.00,130.66 L257.50,129.88 L257.00,129.09 L256.50,128.31 L256.00,127.53 L255.50,126.76 L255.00,126.00 L254.50,125.24 L254.00,124.47 L253.50,123.70 L253.00,122.94 L252.50,122.17 L252.00,121.42 L251.50,120.67 L251.00,119.93 L250.50,119.21 L250.00,118.50 L249.50,117.80 L249.00,117.10 L248.50,116.41 L248.00,115.72 L247.50,115.04 L247.00,114.39 L246.50,113.75 L246.00,113.13 L245.50,112.55 L245.00,112.00 L244.50,111.46 L244.00,110.90 L243.50,110.34 L243.00,109.79 L242.50,109.27 L242.00,108.79 L241.50,108.36 L241.00,107.99 L240.50,107.70 L240.00,107.50 L239.50,107.35 L239.00,107.21 L238.50,107.08 L238.00,106.95 L237.50,106.82 L237.00,106.71 L236.50,106.60 L236.00,106.50 L235.50,106.41 L235.00,106.33 L234.50,106.25 L234.00,106.19 L233.50,106.13 L233.00,106.09 L232.50,106.05 L232.00,106.02 L231.50,106.01 L231.00,106.00 L230.50,106.01 L230.00,106.05 L229.50,106.11 L229.00,106.20 L228.50,106.30 L228.00,106.43 L227.50,106.58 L227.00,106.74 L226.50,106.92 L226.00,107.11 L225.50,107.31 L225.00,107.53 L224.50,107.76 L224.00,108.00 L223.50,108.25 L223.00,108.50 L222.50,108.80 L222.00,109.17 L221.50,109.62 L221.00,110.13 L220.50,110.70 L220.00,111.32 L219.50,111.99 L219.00,112.70 L218.50,113.44 L218.00,114.21 L217.50,115.00 L217.00,115.87 L216.50,116.88 L216.00,117.99 L215.50,119.18 L215.00,120.43 L214.50,121.71 L214.00,123.00 L213.50,124.34 L213.00,125.77 L212.50,127.26 L212.00,128.77 L211.50,130.27 L211.00,131.73 L210.50,133.18 L210.00,134.64 L209.50,136.09 L209.00,137.55 L208.50,139.00 L208.00,140.46 L207.50,141.92 L207.00,143.39 L206.50,144.85 L206.00,146.31 L205.50,147.76 L205.00,149.20 L204.50,150.61 L204.00,152.00 L203.50,153.41 L203.00,154.86 L202.50,156.32 L202.00,157.75 L201.50,159.10 L201.00,160.34 L200.50,161.43 L200.00,162.36 L199.50,163.27 L199.00,164.18 L198.50,165.05 L198.00,165.83 L197.50,166.49 L197.00,166.98 L196.50,167.25 L196.00,167.28 L195.50,167.05 L195.00,166.63 L194.50,166.06 L194.00,165.39 L193.50,164.69 L193.00,164.00 L192.50,163.28 L192.00,162.46 L191.50,161.55 L191.00,160.57 L190.50,159.53 L190.00,158.45 L189.50,157.34 L189.00,156.22 L188.50,155.10 L188.00,154.00 L187.50,152.89 L187.00,151.74 L186.50,150.56 L186.00,149.36 L185.50,148.14 L185.00,146.90 L184.50,145.67 L184.00,144.43 L183.50,143.21 L183.00,142.00 L182.50,140.80 L182.00,139.61 L181.50,138.42 L181.00,137.22 L180.50,136.03 L180.00,134.84 L179.50,133.64 L179.00,132.43 L178.50,131.22 L178.00,130.00 L177.50,128.75 L177.00,127.47 L176.50,126.16 L176.00,124.86 L175.50,123.57 L175.00,122.32 L174.50,121.13 L174.00,120.00 L173.50,118.95 L173.00,117.96 L172.50,117.01 L172.00,116.10 L171.50,115.20 L171.00,114.31 L170.50,113.41 L170.00,112.48 L169.50,111.52 L169.00,110.50 L168.50,109.37 L168.00,108.11 L167.50,106.79 L167.00,105.46 L166.50,104.20 L166.00,103.05 L165.50,102.09 L165.00,101.37 L164.50,100.75 L164.00,100.14 L163.50,99.55 L163.00,98.99 L162.50,98.48 L162.00,98.01 L161.50,97.60 L161.00,97.25 L160.50,96.98 L160.00,96.80 L159.50,96.71 L159.00,96.73 L158.50,96.91 L158.00,97.24 L157.50,97.69 L157.00,98.25 L156.50,98.89 L156.00,99.60 L155.50,100.35 L155.00,101.24 L154.50,102.49 L154.00,104.05 L153.50,105.86 L153.00,107.86 L152.50,110.00 L152.00,112.47 L151.50,115.44 L151.00,118.79 L150.50,122.40 L150.00,126.18 L149.50,130.00 L149.00,134.01 L148.50,138.35 L148.00,142.88 L147.50,147.47 L147.00,152.00 L146.50,156.52 L146.00,161.11 L145.50,165.64 L145.00,170.00 L144.50,174.55 L144.00,179.23 L143.50,183.29 L143.00,186.00 L142.50,187.73 L142.00,189.31 L141.50,190.70 L141.00,191.86 L140.50,192.74 L140.00,193.30 L139.50,193.50 L139.00,193.22 L138.50,192.45 L138.00,191.26 L137.50,189.74 L137.00,187.98 L136.50,186.06 L136.00,184.06 L135.50,182.07 L135.00,180.18 L134.50,178.46 L134.00,177.00 L133.50,175.63 L133.00,174.14 L132.50,172.61 L132.00,171.08 L131.50,169.63 L131.00,168.30 L130.50,167.17 L130.00,166.28 L129.50,165.71 L129.00,165.50 L128.50,165.65 L128.00,166.09 L127.50,166.78 L127.00,167.69 L126.50,168.77 L126.00,170.01 L125.50,171.35 L125.00,172.77 L124.50,174.24 L124.00,175.71 L123.50,177.16 L123.00,178.55 L122.50,179.84 L122.00,181.00 L121.50,182.00 L121.00,182.93 L120.50,183.92 L120.00,184.93 L119.50,185.96 L119.00,186.99 L118.50,188.00 L118.00,188.97 L117.50,189.90 L117.00,190.75 L116.50,191.52 L116.00,192.19 L115.50,192.74 L115.00,193.15 L114.50,193.41 L114.00,193.50 L113.50,193.46 L113.00,193.34 L112.50,193.14 L112.00,192.87 L111.50,192.54 L111.00,192.14 L110.50,191.70 L110.00,191.20 L109.50,190.65 L109.00,190.07 L108.50,189.45 L108.00,188.80 L107.50,188.12 L107.00,187.43 L106.50,186.72 L106.00,186.00 L105.50,185.22 L105.00,184.32 L104.50,183.31 L104.00,182.19 L103.50,180.96 L103.00,179.62 L102.50,178.17 L102.00,176.62 L101.50,174.96 L101.00,173.20 L100.50,171.34 L100.00,169.38 L99.50,167.33 L99.00,165.17 L98.50,162.93 L98.00,160.50 L97.50,157.59 L97.00,154.23 L96.50,150.46 L96.00,146.35 L95.50,141.97 L95.00,137.37 L94.50,132.62 L94.00,127.78 L93.50,122.91 L93.00,118.01 L92.50,112.64 L92.00,106.84 L91.50,100.80 L91.00,94.71 L90.50,88.76 L90.00,83.14 L89.50,77.98 L89.00,73.03 L88.50,68.24 L88.00,63.73 L87.50,59.55 L87.00,55.47 L86.50,51.40 L86.00,50.25 L85.50,56.65 L85.00,65.78 L84.50,77.57 L84.00,90.29 L83.50,105.07 L83.00,115.00 L82.50,119.23 L82.00,122.69 L81.50,125.26 L81.00,126.80 L80.50,127.20 L80.00,127.20 L79.50,127.20 L79.00,127.20 L78.50,127.20 L78.00,127.20 L77.50,127.20 L77.00,127.20 L76.50,127.20 L76.00,127.20 L75.50,127.20 L75.00,127.20 L74.50,127.20 L74.00,127.20 L73.50,127.20 L73.00,127.20 L72.50,127.20 L72.00,127.20 L71.50,127.20 L71.00,127.20Z" fill="rgba(185,185,185,0.36)" stroke="none"/>
<path d="M71.00,111.40 L71.50,111.40 L72.00,111.40 L72.50,111.40 L73.00,111.40 L73.50,111.40 L74.00,111.40 L74.50,111.40 L75.00,111.40 L75.50,111.40 L76.00,111.40 L76.50,111.40 L77.00,111.40 L77.50,111.40 L78.00,111.40 L78.50,111.40 L79.00,111.40 L79.50,111.40 L80.00,111.40 L80.50,111.40 L81.00,110.73 L81.50,108.21 L82.00,104.14 L82.50,98.47 L83.00,82.96 L83.50,67.59 L84.00,56.25 L84.50,48.00 L85.00,42.33 L85.50,38.30 L86.00,37.67 L86.50,39.31 L87.00,41.89 L87.50,44.49 L88.00,47.05 L88.50,49.82 L89.00,52.83 L89.50,56.10 L90.00,59.65 L90.50,63.52 L91.00,67.79 L91.50,73.05 L92.00,79.15 L92.50,85.81 L93.00,92.73 L93.50,99.60 L94.00,106.12 L94.50,112.00 L95.00,117.58 L95.50,123.33 L96.00,129.12 L96.50,134.83 L97.00,140.31 L97.50,145.46 L98.00,150.13 L98.50,154.19 L99.00,157.53 L99.50,160.00 L100.00,161.93 L100.50,163.73 L101.00,165.41 L101.50,166.97 L102.00,168.41 L102.50,169.75 L103.00,170.99 L103.50,172.13 L104.00,173.19 L104.50,174.16 L105.00,175.06 L105.50,175.88 L106.00,176.64 L106.50,177.35 L107.00,178.00 L107.50,178.63 L108.00,179.26 L108.50,179.87 L109.00,180.47 L109.50,181.05 L110.00,181.59 L110.50,182.10 L111.00,182.56 L111.50,182.97 L112.00,183.32 L112.50,183.61 L113.00,183.82 L113.50,183.95 L114.00,184.00 L114.50,183.93 L115.00,183.72 L115.50,183.39 L116.00,182.96 L116.50,182.43 L117.00,181.82 L117.50,181.14 L118.00,180.42 L118.50,179.65 L119.00,178.86 L119.50,178.05 L120.00,177.25 L120.50,176.47 L121.00,175.71 L121.50,175.00 L122.00,174.25 L122.50,173.39 L123.00,172.44 L123.50,171.42 L124.00,170.37 L124.50,169.29 L125.00,168.23 L125.50,167.21 L126.00,166.24 L126.50,165.35 L127.00,164.57 L127.50,163.92 L128.00,163.42 L128.50,163.11 L129.00,163.00 L129.50,163.15 L130.00,163.58 L130.50,164.25 L131.00,165.09 L131.50,166.08 L132.00,167.16 L132.50,168.29 L133.00,169.42 L133.50,170.50 L134.00,171.50 L134.50,172.54 L135.00,173.76 L135.50,175.08 L136.00,176.47 L136.50,177.86 L137.00,179.19 L137.50,180.41 L138.00,181.46 L138.50,182.28 L139.00,182.81 L139.50,183.00 L140.00,182.85 L140.50,182.43 L141.00,181.76 L141.50,180.89 L142.00,179.84 L142.50,178.66 L143.00,177.36 L143.50,176.00 L144.00,174.14 L144.50,171.54 L145.00,168.46 L145.50,165.19 L146.00,162.00 L146.50,158.95 L147.00,155.82 L147.50,152.48 L148.00,148.79 L148.50,144.56 L149.00,139.71 L149.50,134.47 L150.00,129.08 L150.50,123.59 L151.00,117.84 L151.50,111.93 L152.00,106.00 L152.50,99.74 L153.00,93.40 L153.50,88.00 L154.00,83.63 L154.50,79.74 L155.00,76.35 L155.50,73.45 L156.00,70.77 L156.50,68.48 L157.00,67.00 L157.50,66.11 L158.00,65.35 L158.50,64.76 L159.00,64.40 L159.50,64.31 L160.00,64.50 L160.50,64.93 L161.00,65.53 L161.50,66.24 L162.00,67.00 L162.50,67.98 L163.00,69.33 L163.50,70.92 L164.00,72.64 L164.50,74.37 L165.00,76.00 L165.50,77.54 L166.00,79.10 L166.50,80.68 L167.00,82.26 L167.50,83.84 L168.00,85.42 L168.50,87.00 L169.00,88.56 L169.50,90.11 L170.00,91.66 L170.50,93.22 L171.00,94.79 L171.50,96.38 L172.00,98.00 L172.50,99.66 L173.00,101.36 L173.50,103.09 L174.00,104.83 L174.50,106.56 L175.00,108.29 L175.50,110.00 L176.00,111.70 L176.50,113.40 L177.00,115.11 L177.50,116.81 L178.00,118.50 L178.50,120.18 L179.00,121.82 L179.50,123.43 L180.00,125.00 L180.50,126.53 L181.00,128.02 L181.50,129.49 L182.00,130.93 L182.50,132.36 L183.00,133.77 L183.50,135.18 L184.00,136.59 L184.50,138.00 L185.00,139.42 L185.50,140.84 L186.00,142.25 L186.50,143.66 L187.00,145.06 L187.50,146.45 L188.00,147.82 L188.50,149.17 L189.00,150.50 L189.50,151.85 L190.00,153.23 L190.50,154.63 L191.00,155.99 L191.50,157.30 L192.00,158.50 L192.50,159.58 L193.00,160.50 L193.50,161.35 L194.00,162.21 L194.50,163.01 L195.00,163.70 L195.50,164.21 L196.00,164.47 L196.50,164.45 L197.00,164.17 L197.50,163.68 L198.00,163.02 L198.50,162.21 L199.00,161.32 L199.50,160.36 L200.00,159.39 L200.50,158.37 L201.00,157.11 L201.50,155.64 L202.00,154.03 L202.50,152.34 L203.00,150.66 L203.50,149.02 L204.00,147.35 L204.50,145.62 L205.00,143.84 L205.50,141.97 L206.00,140.00 L206.50,137.89 L207.00,135.62 L207.50,133.23 L208.00,130.78 L208.50,128.28 L209.00,125.80 L209.50,123.35 L210.00,121.00 L210.50,118.66 L211.00,116.27 L211.50,113.85 L212.00,111.45 L212.50,109.11 L213.00,106.85 L213.50,104.72 L214.00,102.76 L214.50,101.00 L215.00,99.37 L215.50,97.80 L216.00,96.28 L216.50,94.84 L217.00,93.46 L217.50,92.17 L218.00,90.97 L218.50,89.87 L219.00,88.88 L219.50,88.00 L220.00,87.20 L220.50,86.44 L221.00,85.71 L221.50,85.02 L222.00,84.38 L222.50,83.78 L223.00,83.22 L223.50,82.71 L224.00,82.26 L224.50,81.85 L225.00,81.50 L225.50,81.17 L226.00,80.85 L226.50,80.54 L227.00,80.24 L227.50,79.97 L228.00,79.73 L228.50,79.53 L229.00,79.38 L229.50,79.28 L230.00,79.25 L230.50,79.27 L231.00,79.32 L231.50,79.40 L232.00,79.51 L232.50,79.64 L233.00,79.79 L233.50,79.96 L234.00,80.15 L234.50,80.35 L235.00,80.56 L235.50,80.78 L236.00,81.00 L236.50,81.25 L237.00,81.56 L237.50,81.91 L238.00,82.31 L238.50,82.75 L239.00,83.23 L239.50,83.74 L240.00,84.28 L240.50,84.85 L241.00,85.43 L241.50,86.03 L242.00,86.64 L242.50,87.25 L243.00,87.90 L243.50,88.60 L244.00,89.36 L244.50,90.16 L245.00,91.00 L245.50,91.87 L246.00,92.77 L246.50,93.69 L247.00,94.62 L247.50,95.56 L248.00,96.50 L248.50,97.46 L249.00,98.44 L249.50,99.46 L250.00,100.50 L250.50,101.57 L251.00,102.65 L251.50,103.76 L252.00,104.87 L252.50,106.00 L253.00,107.15 L253.50,108.31 L254.00,109.51 L254.50,110.72 L255.00,111.95 L255.50,113.19 L256.00,114.45 L256.50,115.72 L257.00,117.00 L257.50,118.33 L258.00,119.72 L258.50,121.16 L259.00,122.61 L259.50,124.04 L260.00,125.42 L260.50,126.73 L261.00,127.94 L261.50,129.04 L262.00,130.14 L262.50,131.23 L263.00,132.30 L263.50,133.31 L264.00,134.27 L264.50,135.13 L265.00,135.89 L265.50,136.52 L266.00,137.00 L266.50,137.39 L267.00,137.78 L267.50,138.14 L268.00,138.49 L268.50,138.81 L269.00,139.10 L269.50,139.36 L270.00,139.58 L270.50,139.76 L271.00,139.89 L271.50,139.97 L272.00,140.00 L272.50,139.72 L273.00,139.24 L273.50,138.64 L274.00,137.95 L274.50,137.19 L275.00,136.36 L275.50,135.48 L276.00,134.56 L276.50,133.60 L277.00,132.60 L277.50,131.57 L278.00,130.52 L278.50,129.44 L279.00,128.35 L279.50,127.24 L280.00,126.12 L280.50,124.99 L281.00,123.85 L281.50,122.71 L282.00,121.56 L282.50,120.41 L283.00,119.27 L283.50,118.13 L284.00,116.99 L284.50,115.86 L285.00,114.74 L285.50,113.62 L286.00,112.52 L286.50,111.43 L287.00,110.36 L287.50,109.30 L288.00,108.26 L288.50,107.23 L289.00,106.23 L289.50,105.24 L290.00,104.27 L290.50,103.32 L291.00,102.40 L291.50,101.50 L292.00,100.62 L292.50,99.76 L293.00,98.94 L293.50,98.13 L294.00,97.35 L294.50,96.60 L295.00,95.87 L295.50,95.18 L296.00,94.51 L296.50,93.86 L297.00,93.25 L297.50,92.66 L298.00,92.10 L298.50,91.57 L299.00,91.07 L299.50,90.60 L300.00,90.16 L300.50,89.75 L301.00,89.37 L301.50,89.01 L302.00,88.69 L302.50,88.39 L303.00,88.12 L303.50,87.88 L304.00,87.68 L304.50,87.49 L305.00,87.34 L305.50,87.22 L306.00,87.12 L306.50,87.05 L307.00,87.01 L307.50,87.00 L308.00,87.02 L308.50,87.08 L309.00,87.17 L309.50,87.31 L310.00,87.48 L310.50,87.69 L311.00,87.94 L311.50,88.24 L312.00,88.57 L312.50,88.93 L313.00,89.34 L313.50,89.79 L314.00,90.27 L314.50,90.80 L315.00,91.36 L315.50,91.96 L316.00,92.59 L316.50,93.26 L317.00,93.97 L317.50,94.71 L318.00,95.48 L318.50,96.29 L319.00,97.13 L319.50,98.00 L320.00,98.90 L320.50,99.83 L321.00,100.79 L321.50,101.78 L322.00,102.79 L322.50,103.82 L323.00,104.88 L323.50,105.96 L324.00,107.05 L324.50,108.17 L325.00,109.30 L325.50,110.44 L326.00,111.59 L326.50,112.76 L327.00,113.93 L327.50,115.11 L328.00,116.29 L328.50,117.48 L329.00,118.66 L329.50,119.84 L330.00,121.01 L330.50,122.17 L331.00,123.32 L331.50,124.46 L332.00,125.58 L332.50,126.68 L333.00,127.75 L333.50,128.80 L334.00,129.81 L334.50,130.79 L335.00,131.74 L335.50,132.64 L336.00,133.49 L336.50,134.29 L337.00,135.03 L337.50,135.71 L338.00,136.32 L338.50,136.84 L339.00,137.27 L339.50,137.59 L340.00,137.75 L340.50,137.66 L341.00,137.45 L341.50,137.15 L342.00,136.77 L342.50,136.32 L343.00,135.81 L343.50,135.24 L344.00,134.62 L344.50,133.94 L345.00,133.22 L345.50,132.46 L346.00,131.65 L346.50,130.81 L347.00,129.94 L347.50,129.03 L348.00,128.10 L348.50,127.14 L349.00,126.16 L349.50,125.16 L350.00,124.14 L350.50,123.11 L351.00,122.07 L351.50,121.01 L352.00,119.95 L352.50,118.89 L353.00,117.82 L353.50,116.75 L354.00,115.68 L354.50,114.62 L355.00,113.56 L355.50,112.51 L356.00,111.47 L356.50,110.45 L357.00,109.43 L357.50,108.43 L358.00,107.45 L358.50,106.49 L359.00,105.55 L359.50,104.63 L360.00,103.74 L360.50,102.87 L361.00,102.02 L361.50,101.21 L362.00,100.42 L362.50,99.66 L363.00,98.94 L363.50,98.24 L364.00,97.58 L364.50,96.96 L365.00,96.36 L365.50,95.81 L366.00,95.29 L366.50,94.80 L367.00,94.36 L367.50,93.95 L368.00,93.58 L368.50,93.25 L369.00,92.96 L369.50,92.70 L370.00,92.49 L370.50,92.31 L371.00,92.17 L371.50,92.08 L372.00,92.02 L372.50,92.00 L373.00,92.01 L373.50,92.05 L374.00,92.12 L374.50,92.21 L375.00,92.33 L375.50,92.47 L376.00,92.64 L376.50,92.83 L377.00,93.05 L377.50,93.29 L378.00,93.56 L378.50,93.85 L379.00,94.17 L379.50,94.50 L380.00,94.86 L380.50,95.24 L381.00,95.64 L381.50,96.06 L382.00,96.50 L382.50,96.96 L383.00,97.44 L383.50,97.93 L384.00,98.44 L384.50,98.97 L385.00,99.50 L385.50,100.06 L386.00,100.62 L386.50,101.20 L387.00,101.79 L387.50,102.38 L388.00,102.99 L388.50,103.60 L389.00,104.22 L389.50,104.84 L390.00,105.47 L390.50,106.11 L391.00,106.74 L391.50,107.38 L392.00,108.01 L392.50,108.64 L393.00,109.28 L393.50,109.91 L394.00,110.53 L394.50,111.15 L395.00,111.76 L395.50,112.37 L396.00,112.96 L396.50,113.55 L397.00,114.13 L397.50,114.69 L398.00,115.25 L398.50,115.78 L399.00,116.31 L399.50,116.82 L400.00,117.31 L400.50,117.79 L401.00,118.25 L401.50,118.69 L402.00,119.11 L402.50,119.51 L403.00,119.89 L403.50,120.25 L404.00,120.58 L404.50,120.90 L405.00,121.19 L405.50,121.46 L406.00,121.70 L406.50,121.92 L407.00,122.11 L407.50,122.28 L408.00,122.42 L408.50,122.54 L409.00,122.63 L409.50,122.70 L410.00,122.74 L410.50,122.75 L411.00,122.72 L411.50,122.63 L412.00,122.51 L412.50,122.34 L413.00,122.13 L413.50,121.89 L414.00,121.61 L414.50,121.30 L415.00,120.95 L415.50,120.58 L416.00,120.18 L416.50,119.76 L417.00,119.31 L417.50,118.83 L418.00,118.34 L418.50,117.82 L419.00,117.29 L419.50,116.74 L420.00,116.18 L420.50,115.60 L421.00,115.02 L421.50,114.42 L422.00,113.82 L422.50,113.21 L423.00,112.59 L423.50,111.97 L424.00,111.35 L424.50,110.74 L425.00,110.12 L425.50,109.51 L426.00,108.90 L426.50,108.30 L427.00,107.71 L427.50,107.13 L428.00,106.55 L428.50,106.00 L429.00,105.45 L429.50,104.92 L430.00,104.41 L430.50,103.91 L431.00,103.44 L431.50,102.98 L432.00,102.54 L432.50,102.13 L433.00,101.74 L433.50,101.37 L434.00,101.03 L434.50,100.71 L435.00,100.42 L435.50,100.15 L436.00,99.91 L436.50,99.70 L437.00,99.51 L437.50,99.36 L438.00,99.23 L438.50,99.13 L439.00,99.06 L439.50,99.01 L440.00,99.00 L440.50,99.01 L441.00,99.05 L441.50,99.12 L442.00,99.20 L442.50,99.32 L443.00,99.46 L443.50,99.62 L444.00,99.81 L444.50,100.03 L445.00,100.26 L445.50,100.53 L446.00,100.81 L446.50,101.12 L447.00,101.44 L447.50,101.79 L448.00,102.16 L448.50,102.55 L449.00,102.96 L449.50,103.39 L450.00,103.83 L450.50,104.29 L451.00,104.76 L451.50,105.25 L452.00,105.75 L452.50,106.27 L453.00,106.79 L453.50,107.32 L454.00,107.87 L454.50,108.42 L455.00,108.97 L455.50,109.53 L456.00,110.10 L456.50,110.67 L457.00,111.24 L457.50,111.80 L458.00,112.37 L458.50,112.93 L459.00,113.49 L459.50,114.05 L460.00,114.60 L460.50,115.14 L461.00,115.67 L461.50,116.19 L462.00,116.69 L462.50,117.19 L463.00,117.67 L463.50,118.13 L464.00,118.58 L464.50,119.01 L465.00,119.42 L465.50,119.80 L466.00,120.17 L466.50,120.52 L467.00,120.84 L467.50,121.13 L468.00,121.40 L468.50,121.65 L469.00,121.86" fill="none" stroke="#0a0a0a" stroke-width="1.6" stroke-linejoin="round"/>
<path d="M71.00,127.20 L71.50,127.20 L72.00,127.20 L72.50,127.20 L73.00,127.20 L73.50,127.20 L74.00,127.20 L74.50,127.20 L75.00,127.20 L75.50,127.20 L76.00,127.20 L76.50,127.20 L77.00,127.20 L77.50,127.20 L78.00,127.20 L78.50,127.20 L79.00,127.20 L79.50,127.20 L80.00,127.20 L80.50,127.20 L81.00,126.80 L81.50,125.26 L82.00,122.69 L82.50,119.23 L83.00,115.00 L83.50,105.07 L84.00,90.29 L84.50,77.57 L85.00,65.78 L85.50,56.65 L86.00,50.25 L86.50,51.40 L87.00,55.47 L87.50,59.55 L88.00,63.73 L88.50,68.24 L89.00,73.03 L89.50,77.98 L90.00,83.14 L90.50,88.76 L91.00,94.71 L91.50,100.80 L92.00,106.84 L92.50,112.64 L93.00,118.01 L93.50,122.91 L94.00,127.78 L94.50,132.62 L95.00,137.37 L95.50,141.97 L96.00,146.35 L96.50,150.46 L97.00,154.23 L97.50,157.59 L98.00,160.50 L98.50,162.93 L99.00,165.17 L99.50,167.33 L100.00,169.38 L100.50,171.34 L101.00,173.20 L101.50,174.96 L102.00,176.62 L102.50,178.17 L103.00,179.62 L103.50,180.96 L104.00,182.19 L104.50,183.31 L105.00,184.32 L105.50,185.22 L106.00,186.00 L106.50,186.72 L107.00,187.43 L107.50,188.12 L108.00,188.80 L108.50,189.45 L109.00,190.07 L109.50,190.65 L110.00,191.20 L110.50,191.70 L111.00,192.14 L111.50,192.54 L112.00,192.87 L112.50,193.14 L113.00,193.34 L113.50,193.46 L114.00,193.50 L114.50,193.41 L115.00,193.15 L115.50,192.74 L116.00,192.19 L116.50,191.52 L117.00,190.75 L117.50,189.90 L118.00,188.97 L118.50,188.00 L119.00,186.99 L119.50,185.96 L120.00,184.93 L120.50,183.92 L121.00,182.93 L121.50,182.00 L122.00,181.00 L122.50,179.84 L123.00,178.55 L123.50,177.16 L124.00,175.71 L124.50,174.24 L125.00,172.77 L125.50,171.35 L126.00,170.01 L126.50,168.77 L127.00,167.69 L127.50,166.78 L128.00,166.09 L128.50,165.65 L129.00,165.50 L129.50,165.71 L130.00,166.28 L130.50,167.17 L131.00,168.30 L131.50,169.63 L132.00,171.08 L132.50,172.61 L133.00,174.14 L133.50,175.63 L134.00,177.00 L134.50,178.46 L135.00,180.18 L135.50,182.07 L136.00,184.06 L136.50,186.06 L137.00,187.98 L137.50,189.74 L138.00,191.26 L138.50,192.45 L139.00,193.22 L139.50,193.50 L140.00,193.30 L140.50,192.74 L141.00,191.86 L141.50,190.70 L142.00,189.31 L142.50,187.73 L143.00,186.00 L143.50,183.29 L144.00,179.23 L144.50,174.55 L145.00,170.00 L145.50,165.64 L146.00,161.11 L146.50,156.52 L147.00,152.00 L147.50,147.47 L148.00,142.88 L148.50,138.35 L149.00,134.01 L149.50,130.00 L150.00,126.18 L150.50,122.40 L151.00,118.79 L151.50,115.44 L152.00,112.47 L152.50,110.00 L153.00,107.86 L153.50,105.86 L154.00,104.05 L154.50,102.49 L155.00,101.24 L155.50,100.35 L156.00,99.60 L156.50,98.89 L157.00,98.25 L157.50,97.69 L158.00,97.24 L158.50,96.91 L159.00,96.73 L159.50,96.71 L160.00,96.80 L160.50,96.98 L161.00,97.25 L161.50,97.60 L162.00,98.01 L162.50,98.48 L163.00,98.99 L163.50,99.55 L164.00,100.14 L164.50,100.75 L165.00,101.37 L165.50,102.09 L166.00,103.05 L166.50,104.20 L167.00,105.46 L167.50,106.79 L168.00,108.11 L168.50,109.37 L169.00,110.50 L169.50,111.52 L170.00,112.48 L170.50,113.41 L171.00,114.31 L171.50,115.20 L172.00,116.10 L172.50,117.01 L173.00,117.96 L173.50,118.95 L174.00,120.00 L174.50,121.13 L175.00,122.32 L175.50,123.57 L176.00,124.86 L176.50,126.16 L177.00,127.47 L177.50,128.75 L178.00,130.00 L178.50,131.22 L179.00,132.43 L179.50,133.64 L180.00,134.84 L180.50,136.03 L181.00,137.22 L181.50,138.42 L182.00,139.61 L182.50,140.80 L183.00,142.00 L183.50,143.21 L184.00,144.43 L184.50,145.67 L185.00,146.90 L185.50,148.14 L186.00,149.36 L186.50,150.56 L187.00,151.74 L187.50,152.89 L188.00,154.00 L188.50,155.10 L189.00,156.22 L189.50,157.34 L190.00,158.45 L190.50,159.53 L191.00,160.57 L191.50,161.55 L192.00,162.46 L192.50,163.28 L193.00,164.00 L193.50,164.69 L194.00,165.39 L194.50,166.06 L195.00,166.63 L195.50,167.05 L196.00,167.28 L196.50,167.25 L197.00,166.98 L197.50,166.49 L198.00,165.83 L198.50,165.05 L199.00,164.18 L199.50,163.27 L200.00,162.36 L200.50,161.43 L201.00,160.34 L201.50,159.10 L202.00,157.75 L202.50,156.32 L203.00,154.86 L203.50,153.41 L204.00,152.00 L204.50,150.61 L205.00,149.20 L205.50,147.76 L206.00,146.31 L206.50,144.85 L207.00,143.39 L207.50,141.92 L208.00,140.46 L208.50,139.00 L209.00,137.55 L209.50,136.09 L210.00,134.64 L210.50,133.18 L211.00,131.73 L211.50,130.27 L212.00,128.77 L212.50,127.26 L213.00,125.77 L213.50,124.34 L214.00,123.00 L214.50,121.71 L215.00,120.43 L215.50,119.18 L216.00,117.99 L216.50,116.88 L217.00,115.87 L217.50,115.00 L218.00,114.21 L218.50,113.44 L219.00,112.70 L219.50,111.99 L220.00,111.32 L220.50,110.70 L221.00,110.13 L221.50,109.62 L222.00,109.17 L222.50,108.80 L223.00,108.50 L223.50,108.25 L224.00,108.00 L224.50,107.76 L225.00,107.53 L225.50,107.31 L226.00,107.11 L226.50,106.92 L227.00,106.74 L227.50,106.58 L228.00,106.43 L228.50,106.30 L229.00,106.20 L229.50,106.11 L230.00,106.05 L230.50,106.01 L231.00,106.00 L231.50,106.01 L232.00,106.02 L232.50,106.05 L233.00,106.09 L233.50,106.13 L234.00,106.19 L234.50,106.25 L235.00,106.33 L235.50,106.41 L236.00,106.50 L236.50,106.60 L237.00,106.71 L237.50,106.82 L238.00,106.95 L238.50,107.08 L239.00,107.21 L239.50,107.35 L240.00,107.50 L240.50,107.70 L241.00,107.99 L241.50,108.36 L242.00,108.79 L242.50,109.27 L243.00,109.79 L243.50,110.34 L244.00,110.90 L244.50,111.46 L245.00,112.00 L245.50,112.55 L246.00,113.13 L246.50,113.75 L247.00,114.39 L247.50,115.04 L248.00,115.72 L248.50,116.41 L249.00,117.10 L249.50,117.80 L250.00,118.50 L250.50,119.21 L251.00,119.93 L251.50,120.67 L252.00,121.42 L252.50,122.17 L253.00,122.94 L253.50,123.70 L254.00,124.47 L254.50,125.24 L255.00,126.00 L255.50,126.76 L256.00,127.53 L256.50,128.31 L257.00,129.09 L257.50,129.88 L258.00,130.66 L258.50,131.45 L259.00,132.23 L259.50,133.01 L260.00,133.78 L260.50,134.55 L261.00,135.31 L261.50,136.05 L262.00,136.78 L262.50,137.50 L263.00,138.23 L263.50,138.99 L264.00,139.76 L264.50,140.52 L265.00,141.25 L265.50,141.93 L266.00,142.54 L266.50,143.07 L267.00,143.50 L267.50,143.87 L268.00,144.23 L268.50,144.58 L269.00,144.91 L269.50,145.21 L270.00,145.47 L270.50,145.69 L271.00,145.86 L271.50,145.96 L272.00,146.00 L272.50,145.82 L273.00,145.52 L273.50,145.14 L274.00,144.71 L274.50,144.23 L275.00,143.71 L275.50,143.16 L276.00,142.58 L276.50,141.97 L277.00,141.34 L277.50,140.69 L278.00,140.02 L278.50,139.34 L279.00,138.65 L279.50,137.95 L280.00,137.24 L280.50,136.52 L281.00,135.79 L281.50,135.07 L282.00,134.34 L282.50,133.61 L283.00,132.87 L283.50,132.14 L284.00,131.42 L284.50,130.69 L285.00,129.97 L285.50,129.26 L286.00,128.55 L286.50,127.84 L287.00,127.15 L287.50,126.47 L288.00,125.79 L288.50,125.12 L289.00,124.47 L289.50,123.82 L290.00,123.19 L290.50,122.57 L291.00,121.96 L291.50,121.37 L292.00,120.79 L292.50,120.22 L293.00,119.67 L293.50,119.13 L294.00,118.61 L294.50,118.11 L295.00,117.62 L295.50,117.15 L296.00,116.69 L296.50,116.25 L297.00,115.83 L297.50,115.42 L298.00,115.03 L298.50,114.66 L299.00,114.31 L299.50,113.98 L300.00,113.66 L300.50,113.36 L301.00,113.08 L301.50,112.82 L302.00,112.57 L302.50,112.34 L303.00,112.14 L303.50,111.94 L304.00,111.77 L304.50,111.62 L305.00,111.48 L305.50,111.36 L306.00,111.26 L306.50,111.17 L307.00,111.10 L307.50,111.05 L308.00,111.02 L308.50,111.00 L308.75,111.00 L309.25,111.01 L309.75,111.05 L310.25,111.12 L310.75,111.21 L311.25,111.33 L311.75,111.47 L312.25,111.65 L312.75,111.85 L313.25,112.07 L313.75,112.33 L314.25,112.61 L314.75,112.91 L315.25,113.24 L315.75,113.60 L316.25,113.99 L316.75,114.40 L317.25,114.83 L317.75,115.29 L318.25,115.77 L318.75,116.28 L319.25,116.81 L319.75,117.37 L320.25,117.94 L320.75,118.54 L321.25,119.15 L321.75,119.79 L322.25,120.45 L322.75,121.12 L323.25,121.81 L323.75,122.52 L324.25,123.24 L324.75,123.98 L325.25,124.72 L325.75,125.48 L326.25,126.26 L326.75,127.04 L327.25,127.82 L327.75,128.62 L328.25,129.42 L328.75,130.22 L329.25,131.02 L329.75,131.83 L330.25,132.63 L330.75,133.43 L331.25,134.23 L331.75,135.01 L332.25,135.79 L332.75,136.56 L333.25,137.32 L333.75,138.06 L334.25,138.78 L334.75,139.49 L335.25,140.17 L335.75,140.83 L336.25,141.45 L336.75,142.05 L337.25,142.62 L337.75,143.15 L338.25,143.63 L338.75,144.07 L339.25,144.46 L339.75,144.79 L340.25,145.04 L340.75,145.21 L341.00,145.25 L341.50,145.19 L342.00,145.05 L342.50,144.85 L343.00,144.60 L343.50,144.30 L344.00,143.96 L344.50,143.59 L345.00,143.17 L345.50,142.72 L346.00,142.25 L346.50,141.74 L347.00,141.20 L347.50,140.65 L348.00,140.06 L348.50,139.46 L349.00,138.84 L349.50,138.21 L350.00,137.55 L350.50,136.89 L351.00,136.21 L351.50,135.52 L352.00,134.83 L352.50,134.13 L353.00,133.42 L353.50,132.71 L354.00,132.00 L354.50,131.28 L355.00,130.57 L355.50,129.86 L356.00,129.15 L356.50,128.45 L357.00,127.76 L357.50,127.07 L358.00,126.39 L358.50,125.72 L359.00,125.07 L359.50,124.42 L360.00,123.79 L360.50,123.17 L361.00,122.57 L361.50,121.99 L362.00,121.42 L362.50,120.87 L363.00,120.33 L363.50,119.82 L364.00,119.33 L364.50,118.86 L365.00,118.41 L365.50,117.99 L366.00,117.58 L366.50,117.20 L367.00,116.85 L367.50,116.51 L368.00,116.21 L368.50,115.92 L369.00,115.66 L369.50,115.43 L370.00,115.23 L370.50,115.04 L371.00,114.89 L371.50,114.76 L372.00,114.66 L372.50,114.58 L373.00,114.53 L373.50,114.50 L373.75,114.50 L374.25,114.51 L374.75,114.54 L375.25,114.58 L375.75,114.65 L376.25,114.73 L376.75,114.84 L377.25,114.96 L377.75,115.09 L378.25,115.25 L378.75,115.42 L379.25,115.61 L379.75,115.82 L380.25,116.04 L380.75,116.28 L381.25,116.54 L381.75,116.80 L382.25,117.09 L382.75,117.39 L383.25,117.70 L383.75,118.02 L384.25,118.36 L384.75,118.71 L385.25,119.07 L385.75,119.44 L386.25,119.82 L386.75,120.20 L387.25,120.60 L387.75,121.01 L388.25,121.42 L388.75,121.83 L389.25,122.26 L389.75,122.68 L390.25,123.11 L390.75,123.55 L391.25,123.98 L391.75,124.42 L392.25,124.86 L392.75,125.30 L393.25,125.73 L393.75,126.17 L394.25,126.60 L394.75,127.03 L395.25,127.46 L395.75,127.88 L396.25,128.29 L396.75,128.70 L397.25,129.10 L397.75,129.49 L398.25,129.88 L398.75,130.25 L399.25,130.61 L399.75,130.97 L400.25,131.31 L400.75,131.64 L401.25,131.96 L401.75,132.26 L402.25,132.55 L402.75,132.83 L403.25,133.09 L403.75,133.34 L404.25,133.57 L404.75,133.79 L405.25,133.98 L405.75,134.17 L406.25,134.33 L406.75,134.48 L407.25,134.61 L407.75,134.72 L408.25,134.81 L408.75,134.89 L409.25,134.94 L409.75,134.98 L410.25,135.00 L410.50,135.00 L411.00,134.98 L411.50,134.93 L412.00,134.85 L412.50,134.74 L413.00,134.61 L413.50,134.45 L414.00,134.28 L414.50,134.08 L415.00,133.86 L415.50,133.62 L416.00,133.37 L416.50,133.10 L417.00,132.81 L417.50,132.51 L418.00,132.19 L418.50,131.86 L419.00,131.52 L419.50,131.17 L420.00,130.81 L420.50,130.44 L421.00,130.06 L421.50,129.68 L422.00,129.29 L422.50,128.89 L423.00,128.50 L423.50,128.09 L424.00,127.69 L424.50,127.29 L425.00,126.89 L425.50,126.48 L426.00,126.09 L426.50,125.69 L427.00,125.30 L427.50,124.91 L428.00,124.53 L428.50,124.16 L429.00,123.79 L429.50,123.44 L430.00,123.09 L430.50,122.75 L431.00,122.42 L431.50,122.11 L432.00,121.81 L432.50,121.52 L433.00,121.24 L433.50,120.98 L434.00,120.73 L434.50,120.50 L435.00,120.28 L435.50,120.08 L436.00,119.89 L436.50,119.73 L437.00,119.57 L437.50,119.44 L438.00,119.32 L438.50,119.22 L439.00,119.14 L439.50,119.08 L440.00,119.04 L440.50,119.01 L441.00,119.00 L441.50,119.01 L442.00,119.04 L442.50,119.09 L443.00,119.15 L443.50,119.24 L444.00,119.34 L444.50,119.47 L445.00,119.61 L445.50,119.77 L446.00,119.95 L446.50,120.14 L447.00,120.35 L447.50,120.58 L448.00,120.83 L448.50,121.09 L449.00,121.36 L449.50,121.65 L450.00,121.95 L450.50,122.27 L451.00,122.60 L451.50,122.94 L452.00,123.29 L452.50,123.65 L453.00,124.02 L453.50,124.40 L454.00,124.78 L454.50,125.18 L455.00,125.57 L455.50,125.98 L456.00,126.38 L456.50,126.79 L457.00,127.20 L457.50,127.62 L458.00,128.03 L458.50,128.44 L459.00,128.85 L459.50,129.25 L460.00,129.65 L460.50,130.05 L461.00,130.44 L461.50,130.82 L462.00,131.19 L462.50,131.56 L463.00,131.91 L463.50,132.25 L464.00,132.59 L464.50,132.90 L465.00,133.21 L465.50,133.49 L466.00,133.77 L466.50,134.02 L467.00,134.26 L467.50,134.48 L468.00,134.68 L468.50,134.86 L469.00,135.02" fill="none" stroke="#0a0a0a" stroke-width="1.6" stroke-linejoin="round"/>

<path d="M71.00,154.00 L71.50,154.00 L72.00,154.00 L72.50,154.00 L73.00,154.00 L73.50,154.00 L74.00,154.00 L74.50,154.00 L75.00,154.00 L75.50,154.00 L76.00,154.00 L76.50,154.00 L77.00,154.00 L77.50,154.00 L78.00,154.00 L78.50,154.00 L79.00,154.00 L79.50,154.00 L80.00,154.00 L80.50,154.00 L81.00,154.00 L81.50,154.00 L82.00,154.00 L82.50,150.56 L83.00,143.12 L83.50,134.46 L84.00,122.63 L84.50,111.67 L85.00,103.68 L85.50,95.78 L86.00,88.63 L86.50,82.98 L87.00,79.61 L87.50,79.13 L88.00,80.46 L88.50,82.75 L89.00,85.45 L89.50,88.00 L90.00,90.35 L90.50,92.82 L91.00,95.44 L91.50,98.24 L92.00,101.22 L92.50,104.45 L93.00,107.90 L93.50,111.56 L94.00,115.41 L94.50,119.47 L95.00,123.88 L95.50,128.54 L96.00,133.32 L96.50,138.11 L97.00,142.91 L97.50,148.01 L98.00,153.12 L98.50,157.91 L99.00,162.00 L99.50,165.56 L100.00,168.97 L100.50,172.23 L101.00,175.36 L101.50,178.35 L102.00,181.21 L102.50,183.95 L103.00,186.57 L103.50,189.07 L104.00,191.46 L104.50,193.75 L105.00,195.93 L105.50,198.01 L106.00,200.00 L106.50,201.98 L107.00,204.01 L107.50,206.07 L108.00,208.13 L108.50,210.16 L109.00,212.15 L109.50,214.07 L110.00,215.89 L110.50,217.59 L111.00,219.14 L111.50,220.52 L112.00,221.71 L112.50,222.67 L113.00,223.39 L113.50,223.84 L114.00,224.00 L114.50,223.94 L115.00,223.75 L115.50,223.46 L116.00,223.08 L116.50,222.62 L117.00,222.09 L117.50,221.50 L118.00,220.88 L118.50,220.23 L119.00,219.56 L119.50,218.89 L120.00,218.23 L120.50,217.60 L121.00,217.00 L121.50,216.37 L122.00,215.65 L122.50,214.85 L123.00,214.00 L123.50,213.11 L124.00,212.20 L124.50,211.30 L125.00,210.42 L125.50,209.58 L126.00,208.81 L126.50,208.11 L127.00,207.51 L127.50,207.04 L128.00,206.70 L128.50,206.52 L129.00,206.53 L129.50,206.77 L130.00,207.22 L130.50,207.85 L131.00,208.61 L131.50,209.46 L132.00,210.39 L132.50,211.34 L133.00,212.28 L133.50,213.18 L134.00,214.00 L134.50,214.84 L135.00,215.81 L135.50,216.86 L136.00,217.96 L136.50,219.07 L137.00,220.15 L137.50,221.17 L138.00,222.09 L138.50,222.87 L139.00,223.47 L139.50,223.86 L140.00,224.00 L140.50,223.71 L141.00,222.92 L141.50,221.68 L142.00,220.11 L142.50,218.27 L143.00,216.25 L143.50,214.13 L144.00,212.00 L144.50,209.59 L145.00,206.66 L145.50,203.32 L146.00,199.69 L146.50,195.88 L147.00,192.00 L147.50,188.06 L148.00,183.87 L148.50,179.25 L149.00,174.00 L149.50,167.46 L150.00,160.00 L150.50,151.71 L151.00,144.00 L151.50,137.92 L152.00,132.43 L152.50,127.73 L153.00,124.00 L153.50,120.91 L154.00,118.05 L154.50,115.51 L155.00,113.35 L155.50,111.66 L156.00,110.50 L156.50,109.66 L157.00,108.90 L157.50,108.25 L158.00,107.75 L158.50,107.42 L159.00,107.30 L159.50,107.43 L160.00,107.79 L160.50,108.32 L161.00,108.98 L161.50,109.72 L162.00,110.50 L162.50,111.47 L163.00,112.77 L163.50,114.27 L164.00,115.89 L164.50,117.50 L165.00,119.00 L165.50,120.41 L166.00,121.80 L166.50,123.20 L167.00,124.59 L167.50,125.98 L168.00,127.37 L168.50,128.77 L169.00,130.17 L169.50,131.58 L170.00,133.00 L170.50,134.43 L171.00,135.88 L171.50,137.35 L172.00,138.81 L172.50,140.28 L173.00,141.75 L173.50,143.21 L174.00,144.66 L174.50,146.09 L175.00,147.50 L175.50,148.89 L176.00,150.27 L176.50,151.64 L177.00,152.99 L177.50,154.34 L178.00,155.68 L178.50,157.02 L179.00,158.35 L179.50,159.67 L180.00,161.00 L180.50,162.32 L181.00,163.65 L181.50,164.97 L182.00,166.29 L182.50,167.60 L183.00,168.90 L183.50,170.19 L184.00,171.47 L184.50,172.74 L185.00,174.00 L185.50,175.25 L186.00,176.50 L186.50,177.74 L187.00,178.98 L187.50,180.20 L188.00,181.41 L188.50,182.59 L189.00,183.76 L189.50,184.89 L190.00,186.00 L190.50,187.10 L191.00,188.20 L191.50,189.31 L192.00,190.39 L192.50,191.43 L193.00,192.43 L193.50,193.37 L194.00,194.23 L194.50,195.00 L195.00,195.75 L195.50,196.53 L196.00,197.28 L196.50,197.95 L197.00,198.50 L197.50,198.87 L198.00,199.00 L198.50,198.67 L199.00,197.79 L199.50,196.50 L200.00,194.93 L200.50,193.23 L201.00,191.54 L201.50,190.00 L202.00,188.56 L202.50,187.09 L203.00,185.58 L203.50,184.03 L204.00,182.44 L204.50,180.82 L205.00,179.15 L205.50,177.45 L206.00,175.71 L206.50,173.92 L207.00,172.04 L207.50,170.09 L208.00,168.08 L208.50,166.03 L209.00,163.94 L209.50,161.84 L210.00,159.74 L210.50,157.66 L211.00,155.60 L211.50,153.58 L212.00,151.61 L212.50,149.58 L213.00,147.51 L213.50,145.43 L214.00,143.39 L214.50,141.43 L215.00,139.60 L215.50,137.94 L216.00,136.50 L216.50,135.20 L217.00,133.95 L217.50,132.75 L218.00,131.62 L218.50,130.55 L219.00,129.56 L219.50,128.65 L220.00,127.84 L220.50,127.12 L221.00,126.50 L221.50,125.95 L222.00,125.44 L222.50,124.97 L223.00,124.54 L223.50,124.15 L224.00,123.81 L224.50,123.53 L225.00,123.30 L225.50,123.10 L226.00,122.91 L226.50,122.73 L227.00,122.56 L227.50,122.40 L228.00,122.26 L228.50,122.14 L229.00,122.04 L229.50,121.96 L230.00,121.92 L230.50,121.90 L231.00,121.92 L231.50,121.97 L232.00,122.05 L232.50,122.16 L233.00,122.29 L233.50,122.43 L234.00,122.59 L234.50,122.76 L235.00,122.94 L235.50,123.12 L236.00,123.30 L236.50,123.49 L237.00,123.70 L237.50,123.94 L238.00,124.19 L238.50,124.47 L239.00,124.77 L239.50,125.08 L240.00,125.41 L240.50,125.76 L241.00,126.12 L241.50,126.50 L242.00,126.91 L242.50,127.36 L243.00,127.86 L243.50,128.39 L244.00,128.95 L244.50,129.54 L245.00,130.15 L245.50,130.77 L246.00,131.41 L246.50,132.06 L247.00,132.71 L247.50,133.36 L248.00,134.00 L248.50,134.63 L249.00,135.26 L249.50,135.89 L250.00,136.52 L250.50,137.17 L251.00,137.83 L251.50,138.52 L252.00,139.24 L252.50,139.99 L253.00,140.78 L253.50,141.61 L254.00,142.50 L254.50,143.47 L255.00,144.54 L255.50,145.70 L256.00,146.93 L256.50,148.22 L257.00,149.57 L257.50,150.95 L258.00,152.36 L258.50,153.78 L259.00,155.21 L259.50,156.61 L260.00,158.00 L260.50,159.42 L261.00,160.91 L261.50,162.46 L262.00,164.04 L262.50,165.61 L263.00,167.15 L263.50,168.64 L264.00,170.05 L264.50,171.34 L265.00,172.50 L265.50,173.58 L266.00,174.65 L266.50,175.68 L267.00,176.66 L267.50,177.55 L268.00,178.33 L268.50,178.99 L269.00,179.50 L269.50,179.92 L270.00,180.33 L270.50,180.70 L271.00,181.03 L271.50,181.28 L272.00,181.44 L272.50,181.50 L273.00,181.31 L273.50,180.78 L274.00,179.97 L274.50,178.95 L275.00,177.79 L275.50,176.55 L276.00,175.29 L276.50,174.09 L277.00,173.00 L277.50,172.00 L278.00,170.99 L278.50,169.98 L279.00,168.94 L279.50,167.87 L280.00,166.77 L280.50,165.61 L281.00,164.40 L281.50,163.08 L282.00,161.63 L282.50,160.09 L283.00,158.48 L283.50,156.86 L284.00,155.24 L284.50,153.66 L285.00,152.16 L285.50,150.77 L286.00,149.51 L286.50,148.27 L287.00,147.05 L287.50,145.84 L288.00,144.66 L288.50,143.51 L289.00,142.43 L289.50,141.40 L290.00,140.44 L290.50,139.57 L291.00,138.79 L291.50,138.12 L292.00,137.53 L292.50,136.97 L293.00,136.44 L293.50,135.93 L294.00,135.44 L294.50,134.97 L295.00,134.54 L295.50,134.12 L296.00,133.73 L296.50,133.37 L297.00,133.03 L297.50,132.72 L298.00,132.43 L298.50,132.17 L299.00,131.93 L299.50,131.72 L300.00,131.51 L300.50,131.30 L301.00,131.10 L301.50,130.90 L302.00,130.71 L302.50,130.53 L303.00,130.35 L303.50,130.19 L304.00,130.04 L304.50,129.91 L305.00,129.79 L305.50,129.69 L306.00,129.61 L306.50,129.55 L307.00,129.51 L307.50,129.50 L308.00,129.52 L308.50,129.59 L309.00,129.71 L309.50,129.87 L310.00,130.07 L310.50,130.30 L311.00,130.58 L311.50,130.88 L312.00,131.22 L312.50,131.59 L313.00,131.98 L313.50,132.40 L314.00,132.85 L314.50,133.31 L315.00,133.80 L315.50,134.30 L316.00,134.85 L316.50,135.62 L317.00,136.59 L317.50,137.70 L318.00,138.94 L318.50,140.24 L319.00,141.59 L319.50,142.93 L320.00,144.32 L320.50,145.87 L321.00,147.54 L321.50,149.27 L322.00,151.02 L322.50,152.72 L323.00,154.32 L323.50,155.78 L324.00,157.17 L324.50,158.54 L325.00,159.88 L325.50,161.19 L326.00,162.45 L326.50,163.66 L327.00,164.82 L327.50,165.91 L328.00,166.93 L328.50,167.87 L329.00,168.79 L329.50,169.68 L330.00,170.55 L330.50,171.39 L331.00,172.19 L331.50,172.95 L332.00,173.67 L332.50,174.34 L333.00,174.95 L333.50,175.51 L334.00,176.00 L334.50,176.47 L335.00,176.94 L335.50,177.40 L336.00,177.84 L336.50,178.25 L337.00,178.61 L337.50,178.91 L338.00,179.13 L338.50,179.27 L339.00,179.30 L339.50,179.22 L340.00,179.05 L340.50,178.79 L341.00,178.46 L341.50,178.07 L342.00,177.63 L342.50,177.17 L343.00,176.68 L343.50,176.19 L344.00,175.69 L344.50,175.12 L345.00,174.46 L345.50,173.72 L346.00,172.93 L346.50,172.08 L347.00,171.18 L347.50,170.25 L348.00,169.29 L348.50,168.30 L349.00,167.24 L349.50,166.07 L350.00,164.81 L350.50,163.49 L351.00,162.11 L351.50,160.70 L352.00,159.29 L352.50,157.90 L353.00,156.54 L353.50,155.24 L354.00,153.92 L354.50,152.55 L355.00,151.17 L355.50,149.83 L356.00,148.55 L356.50,147.39 L357.00,146.36 L357.50,145.49 L358.00,144.67 L358.50,143.90 L359.00,143.17 L359.50,142.48 L360.00,141.82 L360.50,141.20 L361.00,140.62 L361.50,140.07 L362.00,139.55 L362.50,139.06 L363.00,138.60 L363.50,138.16 L364.00,137.73 L364.50,137.31 L365.00,136.91 L365.50,136.52 L366.00,136.16 L366.50,135.83 L367.00,135.52 L367.50,135.25 L368.00,135.01 L368.50,134.80 L369.00,134.61 L369.50,134.43 L370.00,134.25 L370.50,134.09 L371.00,133.95 L371.50,133.84 L372.00,133.77 L372.50,133.75 L373.00,133.77 L373.50,133.83 L374.00,133.93 L374.50,134.07 L375.00,134.25 L375.50,134.47 L376.00,134.72 L376.50,135.01 L377.00,135.34 L377.50,135.70 L378.00,136.10 L378.50,136.52 L379.00,136.98 L379.50,137.47 L380.00,137.99 L380.50,138.54 L381.00,139.11 L381.50,139.70 L382.00,140.32 L382.50,140.96 L383.00,141.62 L383.50,142.30 L384.00,143.00 L384.50,143.71 L385.00,144.43 L385.50,145.17 L386.00,145.92 L386.50,146.67 L387.00,147.43 L387.50,148.20 L388.00,148.97 L388.50,149.74 L389.00,150.52 L389.50,151.29 L390.00,152.06 L390.50,152.82 L391.00,153.58 L391.50,154.33 L392.00,155.07 L392.50,155.80 L393.00,156.52 L393.50,157.23 L394.00,157.92 L394.50,158.60 L395.00,159.26 L395.50,159.91 L396.00,160.53 L396.50,161.14 L397.00,161.73 L397.50,162.29 L398.00,162.83 L398.50,163.36 L399.00,163.85 L399.50,164.33 L400.00,164.78 L400.50,165.21 L401.00,165.61 L401.50,165.98 L402.00,166.34 L402.50,166.66 L403.00,166.96 L403.50,167.24 L404.00,167.49 L404.50,167.72 L405.00,167.92 L405.50,168.10 L406.00,168.25 L406.50,168.38 L407.00,168.49 L407.50,168.58 L408.00,168.65 L408.50,168.70 L409.00,168.73 L409.50,168.75 L410.00,168.75 L410.50,168.74 L411.00,168.72 L411.50,168.67 L412.00,168.59 L412.50,168.49 L413.00,168.36 L413.50,168.20 L414.00,168.01 L414.50,167.79 L415.00,167.54 L415.50,167.26 L416.00,166.95 L416.50,166.60 L417.00,166.23 L417.50,165.82 L418.00,165.38 L418.50,164.92 L419.00,164.42 L419.50,163.90 L420.00,163.35 L420.50,162.78 L421.00,162.18 L421.50,161.56 L422.00,160.92 L422.50,160.26 L423.00,159.58 L423.50,158.88 L424.00,158.17 L424.50,157.45 L425.00,156.72 L425.50,155.98 L426.00,155.23 L426.50,154.49 L427.00,153.73 L427.50,152.99 L428.00,152.24 L428.50,151.50 L429.00,150.77 L429.50,150.05 L430.00,149.34 L430.50,148.65 L431.00,147.98 L431.50,147.32 L432.00,146.69 L432.50,146.08 L433.00,145.51 L433.50,144.96 L434.00,144.44 L434.50,143.95 L435.00,143.50 L435.50,143.09 L436.00,142.71 L436.50,142.38 L437.00,142.08 L437.50,141.83 L438.00,141.62 L438.50,141.46 L439.00,141.34 L439.50,141.27 L440.00,141.25 L440.50,141.26 L441.00,141.30 L441.50,141.36 L442.00,141.45 L442.50,141.57 L443.00,141.70 L443.50,141.87 L444.00,142.06 L444.50,142.27 L445.00,142.50 L445.50,142.76 L446.00,143.04 L446.50,143.35 L447.00,143.67 L447.50,144.02 L448.00,144.39 L448.50,144.78 L449.00,145.18 L449.50,145.61 L450.00,146.05 L450.50,146.51 L451.00,146.98 L451.50,147.47 L452.00,147.98 L452.50,148.49 L453.00,149.02 L453.50,149.56 L454.00,150.10 L454.50,150.66 L455.00,151.22 L455.50,151.79 L456.00,152.36 L456.50,152.94 L457.00,153.52 L457.50,154.10 L458.00,154.68 L458.50,155.26 L459.00,155.84 L459.50,156.41 L460.00,156.98 L460.50,157.54 L461.00,158.09 L461.50,158.63 L462.00,159.17 L462.50,159.69 L463.00,160.20 L463.50,160.70 L464.00,161.18 L464.50,161.64 L465.00,162.09 L465.50,162.52 L466.00,162.93 L466.50,163.32 L467.00,163.68 L467.50,164.03 L468.00,164.35 L468.50,164.64 L469.00,164.91 L469.00,175.54 L468.50,175.26 L468.00,174.96 L467.50,174.65 L467.00,174.31 L466.50,173.95 L466.00,173.58 L465.50,173.20 L465.00,172.80 L464.50,172.39 L464.00,171.96 L463.50,171.53 L463.00,171.09 L462.50,170.64 L462.00,170.18 L461.50,169.72 L461.00,169.25 L460.50,168.78 L460.00,168.31 L459.50,167.84 L459.00,167.37 L458.50,166.90 L458.00,166.44 L457.50,165.98 L457.00,165.52 L456.50,165.08 L456.00,164.64 L455.50,164.20 L455.00,163.78 L454.50,163.38 L454.00,162.98 L453.50,162.59 L453.00,162.22 L452.50,161.87 L452.00,161.53 L451.50,161.21 L451.00,160.90 L450.50,160.61 L450.00,160.34 L449.50,160.09 L449.00,159.87 L448.50,159.66 L448.00,159.47 L447.50,159.30 L447.00,159.16 L446.50,159.03 L446.00,158.93 L445.50,158.85 L445.00,158.80 L444.50,158.76 L444.00,158.75 L443.50,158.76 L443.00,158.81 L442.50,158.87 L442.00,158.97 L441.50,159.09 L441.00,159.24 L440.50,159.41 L440.00,159.61 L439.50,159.83 L439.00,160.07 L438.50,160.34 L438.00,160.63 L437.50,160.93 L437.00,161.26 L436.50,161.60 L436.00,161.96 L435.50,162.34 L435.00,162.73 L434.50,163.14 L434.00,163.55 L433.50,163.98 L433.00,164.41 L432.50,164.86 L432.00,165.31 L431.50,165.76 L431.00,166.22 L430.50,166.69 L430.00,167.15 L429.50,167.62 L429.00,168.08 L428.50,168.54 L428.00,169.00 L427.50,169.46 L427.00,169.91 L426.50,170.35 L426.00,170.78 L425.50,171.21 L425.00,171.63 L424.50,172.03 L424.00,172.43 L423.50,172.81 L423.00,173.18 L422.50,173.54 L422.00,173.88 L421.50,174.20 L421.00,174.51 L420.50,174.81 L420.00,175.09 L419.50,175.35 L419.00,175.60 L418.50,175.83 L418.00,176.04 L417.50,176.23 L417.00,176.41 L416.50,176.57 L416.00,176.71 L415.50,176.84 L415.00,176.95 L414.50,177.04 L414.00,177.12 L413.50,177.18 L413.00,177.23 L412.50,177.26 L412.00,177.29 L411.50,177.30 L411.00,177.30 L410.50,177.30 L410.00,177.29 L409.50,177.28 L409.00,177.25 L408.50,177.22 L408.00,177.18 L407.50,177.12 L407.00,177.05 L406.50,176.97 L406.00,176.88 L405.50,176.77 L405.00,176.65 L404.50,176.51 L404.00,176.36 L403.50,176.20 L403.00,176.01 L402.50,175.82 L402.00,175.61 L401.50,175.38 L401.00,175.14 L400.50,174.88 L400.00,174.60 L399.50,174.32 L399.00,174.01 L398.50,173.70 L398.00,173.36 L397.50,173.02 L397.00,172.66 L396.50,172.29 L396.00,171.90 L395.50,171.51 L395.00,171.10 L394.50,170.68 L394.00,170.25 L393.50,169.82 L393.00,169.37 L392.50,168.92 L392.00,168.46 L391.50,168.00 L391.00,167.53 L390.50,167.05 L390.00,166.58 L389.50,166.10 L389.00,165.62 L388.50,165.14 L388.00,164.66 L387.50,164.19 L387.00,163.72 L386.50,163.25 L386.00,162.79 L385.50,162.34 L385.00,161.89 L384.50,161.46 L384.00,161.03 L383.50,160.62 L383.00,160.22 L382.50,159.83 L382.00,159.46 L381.50,159.10 L381.00,158.76 L380.50,158.44 L380.00,158.14 L379.50,157.86 L379.00,157.60 L378.50,157.36 L378.00,157.14 L377.50,156.95 L377.00,156.78 L376.50,156.63 L376.00,156.51 L375.50,156.42 L375.00,156.35 L374.50,156.31 L374.00,156.30 L373.50,156.30 L373.00,156.31 L372.50,156.32 L372.00,156.34 L371.50,156.35 L371.00,156.38 L370.50,156.40 L370.00,156.43 L369.50,156.47 L369.00,156.50 L368.50,156.56 L368.00,156.67 L367.50,156.83 L367.00,157.03 L366.50,157.26 L366.00,157.52 L365.50,157.81 L365.00,158.12 L364.50,158.45 L364.00,158.80 L363.50,159.15 L363.00,159.50 L362.50,159.89 L362.00,160.34 L361.50,160.84 L361.00,161.40 L360.50,161.99 L360.00,162.62 L359.50,163.28 L359.00,163.96 L358.50,164.66 L358.00,165.37 L357.50,166.08 L357.00,166.79 L356.50,167.54 L356.00,168.34 L355.50,169.19 L355.00,170.06 L354.50,170.95 L354.00,171.84 L353.50,172.74 L353.00,173.63 L352.50,174.50 L352.00,175.34 L351.50,176.15 L351.00,176.92 L350.50,177.72 L350.00,178.53 L349.50,179.33 L349.00,180.13 L348.50,180.90 L348.00,181.65 L347.50,182.35 L347.00,183.01 L346.50,183.61 L346.00,184.13 L345.50,184.58 L345.00,185.01 L344.50,185.44 L344.00,185.86 L343.50,186.27 L343.00,186.65 L342.50,187.00 L342.00,187.31 L341.50,187.57 L341.00,187.78 L340.50,187.92 L340.00,187.99 L339.50,187.99 L339.00,187.94 L338.50,187.85 L338.00,187.72 L337.50,187.57 L337.00,187.39 L336.50,187.20 L336.00,187.00 L335.50,186.76 L335.00,186.43 L334.50,186.04 L334.00,185.58 L333.50,185.07 L333.00,184.51 L332.50,183.92 L332.00,183.31 L331.50,182.67 L331.00,182.03 L330.50,181.38 L330.00,180.74 L329.50,180.05 L329.00,179.31 L328.50,178.53 L328.00,177.71 L327.50,176.86 L327.00,176.00 L326.50,175.12 L326.00,174.24 L325.50,173.36 L325.00,172.50 L324.50,171.66 L324.00,170.84 L323.50,169.99 L323.00,169.13 L322.50,168.26 L322.00,167.39 L321.50,166.53 L321.00,165.68 L320.50,164.85 L320.00,164.05 L319.50,163.28 L319.00,162.55 L318.50,161.87 L318.00,161.20 L317.50,160.53 L317.00,159.86 L316.50,159.21 L316.00,158.58 L315.50,157.98 L315.00,157.41 L314.50,156.88 L314.00,156.41 L313.50,155.98 L313.00,155.62 L312.50,155.32 L312.00,155.03 L311.50,154.75 L311.00,154.49 L310.50,154.27 L310.00,154.09 L309.50,153.96 L309.00,153.90 L308.50,153.88 L308.00,153.86 L307.50,153.84 L307.00,153.83 L306.50,153.81 L306.00,153.81 L305.50,153.80 L305.00,153.80 L304.50,153.81 L304.00,153.84 L303.50,153.88 L303.00,153.94 L302.50,154.01 L302.00,154.10 L301.50,154.20 L301.00,154.30 L300.50,154.42 L300.00,154.55 L299.50,154.69 L299.00,154.83 L298.50,154.98 L298.00,155.13 L297.50,155.29 L297.00,155.46 L296.50,155.63 L296.00,155.79 L295.50,155.97 L295.00,156.14 L294.50,156.35 L294.00,156.57 L293.50,156.82 L293.00,157.09 L292.50,157.38 L292.00,157.69 L291.50,158.02 L291.00,158.36 L290.50,158.72 L290.00,159.10 L289.50,159.49 L289.00,159.89 L288.50,160.31 L288.00,160.74 L287.50,161.18 L287.00,161.65 L286.50,162.14 L286.00,162.67 L285.50,163.24 L285.00,163.83 L284.50,164.45 L284.00,165.11 L283.50,165.79 L283.00,166.51 L282.50,167.26 L282.00,168.05 L281.50,168.86 L281.00,169.71 L280.50,170.59 L280.00,171.50 L279.50,172.54 L279.00,173.77 L278.50,175.13 L278.00,176.57 L277.50,178.03 L277.00,179.46 L276.50,180.80 L276.00,182.00 L275.50,183.19 L275.00,184.47 L274.50,185.74 L274.00,186.91 L273.50,187.86 L273.00,188.51 L272.50,188.75 L272.00,188.73 L271.50,188.67 L271.00,188.58 L270.50,188.46 L270.00,188.32 L269.50,188.16 L269.00,188.00 L268.50,187.79 L268.00,187.49 L267.50,187.12 L267.00,186.69 L266.50,186.20 L266.00,185.68 L265.50,185.12 L265.00,184.54 L264.50,183.94 L264.00,183.35 L263.50,182.76 L263.00,182.14 L262.50,181.47 L262.00,180.76 L261.50,180.01 L261.00,179.24 L260.50,178.44 L260.00,177.62 L259.50,176.79 L259.00,175.95 L258.50,175.11 L258.00,174.27 L257.50,173.43 L257.00,172.58 L256.50,171.69 L256.00,170.78 L255.50,169.86 L255.00,168.92 L254.50,167.98 L254.00,167.04 L253.50,166.11 L253.00,165.19 L252.50,164.30 L252.00,163.43 L251.50,162.60 L251.00,161.77 L250.50,160.92 L250.00,160.06 L249.50,159.19 L249.00,158.32 L248.50,157.46 L248.00,156.62 L247.50,155.81 L247.00,155.03 L246.50,154.30 L246.00,153.62 L245.50,153.00 L245.00,152.45 L244.50,151.98 L244.00,151.60 L243.50,151.27 L243.00,150.96 L242.50,150.68 L242.00,150.40 L241.50,150.15 L241.00,149.91 L240.50,149.69 L240.00,149.49 L239.50,149.29 L239.00,149.11 L238.50,148.94 L238.00,148.79 L237.50,148.64 L237.00,148.50 L236.50,148.36 L236.00,148.22 L235.50,148.09 L235.00,147.96 L234.50,147.84 L234.00,147.74 L233.50,147.67 L233.00,147.62 L232.50,147.60 L232.00,147.62 L231.50,147.67 L231.00,147.75 L230.50,147.85 L230.00,147.96 L229.50,148.08 L229.00,148.20 L228.50,148.33 L228.00,148.47 L227.50,148.64 L227.00,148.82 L226.50,149.02 L226.00,149.24 L225.50,149.48 L225.00,149.73 L224.50,150.00 L224.00,150.30 L223.50,150.66 L223.00,151.06 L222.50,151.50 L222.00,151.97 L221.50,152.47 L221.00,153.00 L220.50,153.58 L220.00,154.25 L219.50,154.97 L219.00,155.73 L218.50,156.50 L218.00,157.26 L217.50,158.00 L217.00,158.69 L216.50,159.35 L216.00,160.00 L215.50,160.67 L215.00,161.37 L214.50,162.14 L214.00,163.00 L213.50,163.99 L213.00,165.12 L212.50,166.36 L212.00,167.68 L211.50,169.03 L211.00,170.40 L210.50,171.74 L210.00,173.05 L209.50,174.39 L209.00,175.75 L208.50,177.12 L208.00,178.50 L207.50,179.89 L207.00,181.27 L206.50,182.64 L206.00,184.00 L205.50,185.34 L205.00,186.68 L204.50,188.01 L204.00,189.34 L203.50,190.67 L203.00,192.00 L202.50,193.35 L202.00,194.70 L201.50,196.09 L201.00,197.53 L200.50,198.97 L200.00,200.39 L199.50,201.74 L199.00,203.00 L198.50,204.31 L198.00,205.71 L197.50,207.03 L197.00,208.07 L196.50,208.64 L196.00,208.66 L195.50,208.44 L195.00,208.04 L194.50,207.50 L194.00,206.85 L193.50,206.12 L193.00,205.34 L192.50,204.54 L192.00,203.75 L191.50,203.00 L191.00,202.25 L190.50,201.45 L190.00,200.61 L189.50,199.72 L189.00,198.80 L188.50,197.85 L188.00,196.89 L187.50,195.91 L187.00,194.93 L186.50,193.96 L186.00,193.00 L185.50,192.04 L185.00,191.08 L184.50,190.10 L184.00,189.12 L183.50,188.13 L183.00,187.13 L182.50,186.13 L182.00,185.11 L181.50,184.09 L181.00,183.07 L180.50,182.04 L180.00,181.00 L179.50,179.96 L179.00,178.91 L178.50,177.86 L178.00,176.79 L177.50,175.73 L177.00,174.65 L176.50,173.57 L176.00,172.47 L175.50,171.37 L175.00,170.26 L174.50,169.13 L174.00,168.00 L173.50,166.85 L173.00,165.68 L172.50,164.49 L172.00,163.29 L171.50,162.07 L171.00,160.86 L170.50,159.64 L170.00,158.42 L169.50,157.21 L169.00,156.00 L168.50,154.77 L168.00,153.48 L167.50,152.17 L167.00,150.85 L166.50,149.55 L166.00,148.28 L165.50,147.07 L165.00,145.93 L164.50,144.91 L164.00,144.00 L163.50,143.14 L163.00,142.26 L162.50,141.38 L162.00,140.54 L161.50,139.75 L161.00,139.05 L160.50,138.47 L160.00,138.03 L159.50,137.77 L159.00,137.71 L158.50,137.96 L158.00,138.49 L157.50,139.20 L157.00,140.00 L156.50,141.00 L156.00,142.35 L155.50,144.03 L155.00,146.00 L154.50,148.46 L154.00,151.63 L153.50,155.48 L153.00,160.00 L152.50,167.11 L152.00,174.00 L151.50,177.71 L151.00,180.49 L150.50,183.03 L150.00,186.00 L149.50,189.72 L149.00,193.88 L148.50,198.17 L148.00,202.31 L147.50,206.00 L147.00,209.38 L146.50,212.73 L146.00,215.97 L145.50,219.00 L145.00,221.74 L144.50,224.11 L144.00,226.00 L143.50,227.63 L143.00,229.24 L142.50,230.76 L142.00,232.13 L141.50,233.30 L141.00,234.21 L140.50,234.79 L140.00,235.00 L139.50,234.76 L139.00,234.08 L138.50,233.04 L138.00,231.69 L137.50,230.10 L137.00,228.35 L136.50,226.49 L136.00,224.60 L135.50,222.74 L135.00,220.97 L134.50,219.37 L134.00,218.00 L133.50,216.70 L133.00,215.29 L132.50,213.83 L132.00,212.38 L131.50,210.97 L131.00,209.67 L130.50,208.52 L130.00,207.59 L129.50,206.91 L129.00,206.55 L128.50,206.52 L128.00,206.71 L127.50,207.06 L127.00,207.56 L126.50,208.20 L126.00,208.96 L125.50,209.83 L125.00,210.80 L124.50,211.83 L124.00,212.94 L123.50,214.08 L123.00,215.26 L122.50,216.46 L122.00,217.65 L121.50,218.83 L121.00,219.99 L120.50,221.09 L120.00,222.14 L119.50,223.12 L119.00,224.00 L118.50,224.87 L118.00,225.81 L117.50,226.80 L117.00,227.83 L116.50,228.87 L116.00,229.91 L115.50,230.93 L115.00,231.92 L114.50,232.85 L114.00,233.72 L113.50,234.50 L113.00,235.17 L112.50,235.73 L112.00,236.15 L111.50,236.41 L111.00,236.50 L110.50,236.35 L110.00,235.93 L109.50,235.24 L109.00,234.32 L108.50,233.18 L108.00,231.84 L107.50,230.32 L107.00,228.65 L106.50,226.83 L106.00,224.90 L105.50,222.88 L105.00,220.77 L104.50,218.62 L104.00,216.42 L103.50,214.21 L103.00,212.00 L102.50,209.54 L102.00,206.62 L101.50,203.29 L101.00,199.63 L100.50,195.71 L100.00,191.60 L99.50,187.36 L99.00,183.08 L98.50,178.81 L98.00,174.63 L97.50,170.60 L97.00,166.80 L96.50,163.30 L96.00,160.11 L95.50,157.04 L95.00,154.08 L94.50,151.25 L94.00,148.55 L93.50,146.00 L93.00,143.54 L92.50,141.12 L92.00,138.80 L91.50,136.63 L91.00,134.68 L90.50,133.00 L90.00,131.40 L89.50,129.79 L89.00,128.38 L88.50,127.38 L88.00,127.00 L87.50,127.57 L87.00,129.11 L86.50,131.30 L86.00,133.87 L85.50,136.55 L85.00,140.04 L84.50,144.39 L84.00,149.14 L83.50,154.15 L83.00,160.92 L82.50,167.22 L82.00,170.00 L81.50,170.00 L81.00,170.00 L80.50,170.00 L80.00,170.00 L79.50,170.00 L79.00,170.00 L78.50,170.00 L78.00,170.00 L77.50,170.00 L77.00,170.00 L76.50,170.00 L76.00,170.00 L75.50,170.00 L75.00,170.00 L74.50,170.00 L74.00,170.00 L73.50,170.00 L73.00,170.00 L72.50,170.00 L72.00,170.00 L71.50,170.00 L71.00,170.00Z" fill="rgba(0,185,115,0.34)" stroke="none"/>
<path d="M71.00,154.00 L71.50,154.00 L72.00,154.00 L72.50,154.00 L73.00,154.00 L73.50,154.00 L74.00,154.00 L74.50,154.00 L75.00,154.00 L75.50,154.00 L76.00,154.00 L76.50,154.00 L77.00,154.00 L77.50,154.00 L78.00,154.00 L78.50,154.00 L79.00,154.00 L79.50,154.00 L80.00,154.00 L80.50,154.00 L81.00,154.00 L81.50,154.00 L82.00,154.00 L82.50,150.56 L83.00,143.12 L83.50,134.46 L84.00,122.63 L84.50,111.67 L85.00,103.68 L85.50,95.78 L86.00,88.63 L86.50,82.98 L87.00,79.61 L87.50,79.13 L88.00,80.46 L88.50,82.75 L89.00,85.45 L89.50,88.00 L90.00,90.35 L90.50,92.82 L91.00,95.44 L91.50,98.24 L92.00,101.22 L92.50,104.45 L93.00,107.90 L93.50,111.56 L94.00,115.41 L94.50,119.47 L95.00,123.88 L95.50,128.54 L96.00,133.32 L96.50,138.11 L97.00,142.91 L97.50,148.01 L98.00,153.12 L98.50,157.91 L99.00,162.00 L99.50,165.56 L100.00,168.97 L100.50,172.23 L101.00,175.36 L101.50,178.35 L102.00,181.21 L102.50,183.95 L103.00,186.57 L103.50,189.07 L104.00,191.46 L104.50,193.75 L105.00,195.93 L105.50,198.01 L106.00,200.00 L106.50,201.98 L107.00,204.01 L107.50,206.07 L108.00,208.13 L108.50,210.16 L109.00,212.15 L109.50,214.07 L110.00,215.89 L110.50,217.59 L111.00,219.14 L111.50,220.52 L112.00,221.71 L112.50,222.67 L113.00,223.39 L113.50,223.84 L114.00,224.00 L114.50,223.94 L115.00,223.75 L115.50,223.46 L116.00,223.08 L116.50,222.62 L117.00,222.09 L117.50,221.50 L118.00,220.88 L118.50,220.23 L119.00,219.56 L119.50,218.89 L120.00,218.23 L120.50,217.60 L121.00,217.00 L121.50,216.37 L122.00,215.65 L122.50,214.85 L123.00,214.00 L123.50,213.11 L124.00,212.20 L124.50,211.30 L125.00,210.42 L125.50,209.58 L126.00,208.81 L126.50,208.11 L127.00,207.51 L127.50,207.04 L128.00,206.70 L128.50,206.52 L129.00,206.53 L129.50,206.77 L130.00,207.22 L130.50,207.85 L131.00,208.61 L131.50,209.46 L132.00,210.39 L132.50,211.34 L133.00,212.28 L133.50,213.18 L134.00,214.00 L134.50,214.84 L135.00,215.81 L135.50,216.86 L136.00,217.96 L136.50,219.07 L137.00,220.15 L137.50,221.17 L138.00,222.09 L138.50,222.87 L139.00,223.47 L139.50,223.86 L140.00,224.00 L140.50,223.71 L141.00,222.92 L141.50,221.68 L142.00,220.11 L142.50,218.27 L143.00,216.25 L143.50,214.13 L144.00,212.00 L144.50,209.59 L145.00,206.66 L145.50,203.32 L146.00,199.69 L146.50,195.88 L147.00,192.00 L147.50,188.06 L148.00,183.87 L148.50,179.25 L149.00,174.00 L149.50,167.46 L150.00,160.00 L150.50,151.71 L151.00,144.00 L151.50,137.92 L152.00,132.43 L152.50,127.73 L153.00,124.00 L153.50,120.91 L154.00,118.05 L154.50,115.51 L155.00,113.35 L155.50,111.66 L156.00,110.50 L156.50,109.66 L157.00,108.90 L157.50,108.25 L158.00,107.75 L158.50,107.42 L159.00,107.30 L159.50,107.43 L160.00,107.79 L160.50,108.32 L161.00,108.98 L161.50,109.72 L162.00,110.50 L162.50,111.47 L163.00,112.77 L163.50,114.27 L164.00,115.89 L164.50,117.50 L165.00,119.00 L165.50,120.41 L166.00,121.80 L166.50,123.20 L167.00,124.59 L167.50,125.98 L168.00,127.37 L168.50,128.77 L169.00,130.17 L169.50,131.58 L170.00,133.00 L170.50,134.43 L171.00,135.88 L171.50,137.35 L172.00,138.81 L172.50,140.28 L173.00,141.75 L173.50,143.21 L174.00,144.66 L174.50,146.09 L175.00,147.50 L175.50,148.89 L176.00,150.27 L176.50,151.64 L177.00,152.99 L177.50,154.34 L178.00,155.68 L178.50,157.02 L179.00,158.35 L179.50,159.67 L180.00,161.00 L180.50,162.32 L181.00,163.65 L181.50,164.97 L182.00,166.29 L182.50,167.60 L183.00,168.90 L183.50,170.19 L184.00,171.47 L184.50,172.74 L185.00,174.00 L185.50,175.25 L186.00,176.50 L186.50,177.74 L187.00,178.98 L187.50,180.20 L188.00,181.41 L188.50,182.59 L189.00,183.76 L189.50,184.89 L190.00,186.00 L190.50,187.10 L191.00,188.20 L191.50,189.31 L192.00,190.39 L192.50,191.43 L193.00,192.43 L193.50,193.37 L194.00,194.23 L194.50,195.00 L195.00,195.75 L195.50,196.53 L196.00,197.28 L196.50,197.95 L197.00,198.50 L197.50,198.87 L198.00,199.00 L198.50,198.67 L199.00,197.79 L199.50,196.50 L200.00,194.93 L200.50,193.23 L201.00,191.54 L201.50,190.00 L202.00,188.56 L202.50,187.09 L203.00,185.58 L203.50,184.03 L204.00,182.44 L204.50,180.82 L205.00,179.15 L205.50,177.45 L206.00,175.71 L206.50,173.92 L207.00,172.04 L207.50,170.09 L208.00,168.08 L208.50,166.03 L209.00,163.94 L209.50,161.84 L210.00,159.74 L210.50,157.66 L211.00,155.60 L211.50,153.58 L212.00,151.61 L212.50,149.58 L213.00,147.51 L213.50,145.43 L214.00,143.39 L214.50,141.43 L215.00,139.60 L215.50,137.94 L216.00,136.50 L216.50,135.20 L217.00,133.95 L217.50,132.75 L218.00,131.62 L218.50,130.55 L219.00,129.56 L219.50,128.65 L220.00,127.84 L220.50,127.12 L221.00,126.50 L221.50,125.95 L222.00,125.44 L222.50,124.97 L223.00,124.54 L223.50,124.15 L224.00,123.81 L224.50,123.53 L225.00,123.30 L225.50,123.10 L226.00,122.91 L226.50,122.73 L227.00,122.56 L227.50,122.40 L228.00,122.26 L228.50,122.14 L229.00,122.04 L229.50,121.96 L230.00,121.92 L230.50,121.90 L231.00,121.92 L231.50,121.97 L232.00,122.05 L232.50,122.16 L233.00,122.29 L233.50,122.43 L234.00,122.59 L234.50,122.76 L235.00,122.94 L235.50,123.12 L236.00,123.30 L236.50,123.49 L237.00,123.70 L237.50,123.94 L238.00,124.19 L238.50,124.47 L239.00,124.77 L239.50,125.08 L240.00,125.41 L240.50,125.76 L241.00,126.12 L241.50,126.50 L242.00,126.91 L242.50,127.36 L243.00,127.86 L243.50,128.39 L244.00,128.95 L244.50,129.54 L245.00,130.15 L245.50,130.77 L246.00,131.41 L246.50,132.06 L247.00,132.71 L247.50,133.36 L248.00,134.00 L248.50,134.63 L249.00,135.26 L249.50,135.89 L250.00,136.52 L250.50,137.17 L251.00,137.83 L251.50,138.52 L252.00,139.24 L252.50,139.99 L253.00,140.78 L253.50,141.61 L254.00,142.50 L254.50,143.47 L255.00,144.54 L255.50,145.70 L256.00,146.93 L256.50,148.22 L257.00,149.57 L257.50,150.95 L258.00,152.36 L258.50,153.78 L259.00,155.21 L259.50,156.61 L260.00,158.00 L260.50,159.42 L261.00,160.91 L261.50,162.46 L262.00,164.04 L262.50,165.61 L263.00,167.15 L263.50,168.64 L264.00,170.05 L264.50,171.34 L265.00,172.50 L265.50,173.58 L266.00,174.65 L266.50,175.68 L267.00,176.66 L267.50,177.55 L268.00,178.33 L268.50,178.99 L269.00,179.50 L269.50,179.92 L270.00,180.33 L270.50,180.70 L271.00,181.03 L271.50,181.28 L272.00,181.44 L272.50,181.50 L273.00,181.31 L273.50,180.78 L274.00,179.97 L274.50,178.95 L275.00,177.79 L275.50,176.55 L276.00,175.29 L276.50,174.09 L277.00,173.00 L277.50,172.00 L278.00,170.99 L278.50,169.98 L279.00,168.94 L279.50,167.87 L280.00,166.77 L280.50,165.61 L281.00,164.40 L281.50,163.08 L282.00,161.63 L282.50,160.09 L283.00,158.48 L283.50,156.86 L284.00,155.24 L284.50,153.66 L285.00,152.16 L285.50,150.77 L286.00,149.51 L286.50,148.27 L287.00,147.05 L287.50,145.84 L288.00,144.66 L288.50,143.51 L289.00,142.43 L289.50,141.40 L290.00,140.44 L290.50,139.57 L291.00,138.79 L291.50,138.12 L292.00,137.53 L292.50,136.97 L293.00,136.44 L293.50,135.93 L294.00,135.44 L294.50,134.97 L295.00,134.54 L295.50,134.12 L296.00,133.73 L296.50,133.37 L297.00,133.03 L297.50,132.72 L298.00,132.43 L298.50,132.17 L299.00,131.93 L299.50,131.72 L300.00,131.51 L300.50,131.30 L301.00,131.10 L301.50,130.90 L302.00,130.71 L302.50,130.53 L303.00,130.35 L303.50,130.19 L304.00,130.04 L304.50,129.91 L305.00,129.79 L305.50,129.69 L306.00,129.61 L306.50,129.55 L307.00,129.51 L307.50,129.50 L308.00,129.52 L308.50,129.59 L309.00,129.71 L309.50,129.87 L310.00,130.07 L310.50,130.30 L311.00,130.58 L311.50,130.88 L312.00,131.22 L312.50,131.59 L313.00,131.98 L313.50,132.40 L314.00,132.85 L314.50,133.31 L315.00,133.80 L315.50,134.30 L316.00,134.85 L316.50,135.62 L317.00,136.59 L317.50,137.70 L318.00,138.94 L318.50,140.24 L319.00,141.59 L319.50,142.93 L320.00,144.32 L320.50,145.87 L321.00,147.54 L321.50,149.27 L322.00,151.02 L322.50,152.72 L323.00,154.32 L323.50,155.78 L324.00,157.17 L324.50,158.54 L325.00,159.88 L325.50,161.19 L326.00,162.45 L326.50,163.66 L327.00,164.82 L327.50,165.91 L328.00,166.93 L328.50,167.87 L329.00,168.79 L329.50,169.68 L330.00,170.55 L330.50,171.39 L331.00,172.19 L331.50,172.95 L332.00,173.67 L332.50,174.34 L333.00,174.95 L333.50,175.51 L334.00,176.00 L334.50,176.47 L335.00,176.94 L335.50,177.40 L336.00,177.84 L336.50,178.25 L337.00,178.61 L337.50,178.91 L338.00,179.13 L338.50,179.27 L339.00,179.30 L339.50,179.22 L340.00,179.05 L340.50,178.79 L341.00,178.46 L341.50,178.07 L342.00,177.63 L342.50,177.17 L343.00,176.68 L343.50,176.19 L344.00,175.69 L344.50,175.12 L345.00,174.46 L345.50,173.72 L346.00,172.93 L346.50,172.08 L347.00,171.18 L347.50,170.25 L348.00,169.29 L348.50,168.30 L349.00,167.24 L349.50,166.07 L350.00,164.81 L350.50,163.49 L351.00,162.11 L351.50,160.70 L352.00,159.29 L352.50,157.90 L353.00,156.54 L353.50,155.24 L354.00,153.92 L354.50,152.55 L355.00,151.17 L355.50,149.83 L356.00,148.55 L356.50,147.39 L357.00,146.36 L357.50,145.49 L358.00,144.67 L358.50,143.90 L359.00,143.17 L359.50,142.48 L360.00,141.82 L360.50,141.20 L361.00,140.62 L361.50,140.07 L362.00,139.55 L362.50,139.06 L363.00,138.60 L363.50,138.16 L364.00,137.73 L364.50,137.31 L365.00,136.91 L365.50,136.52 L366.00,136.16 L366.50,135.83 L367.00,135.52 L367.50,135.25 L368.00,135.01 L368.50,134.80 L369.00,134.61 L369.50,134.43 L370.00,134.25 L370.50,134.09 L371.00,133.95 L371.50,133.84 L372.00,133.77 L372.50,133.75 L373.00,133.77 L373.50,133.83 L374.00,133.93 L374.50,134.07 L375.00,134.25 L375.50,134.47 L376.00,134.72 L376.50,135.01 L377.00,135.34 L377.50,135.70 L378.00,136.10 L378.50,136.52 L379.00,136.98 L379.50,137.47 L380.00,137.99 L380.50,138.54 L381.00,139.11 L381.50,139.70 L382.00,140.32 L382.50,140.96 L383.00,141.62 L383.50,142.30 L384.00,143.00 L384.50,143.71 L385.00,144.43 L385.50,145.17 L386.00,145.92 L386.50,146.67 L387.00,147.43 L387.50,148.20 L388.00,148.97 L388.50,149.74 L389.00,150.52 L389.50,151.29 L390.00,152.06 L390.50,152.82 L391.00,153.58 L391.50,154.33 L392.00,155.07 L392.50,155.80 L393.00,156.52 L393.50,157.23 L394.00,157.92 L394.50,158.60 L395.00,159.26 L395.50,159.91 L396.00,160.53 L396.50,161.14 L397.00,161.73 L397.50,162.29 L398.00,162.83 L398.50,163.36 L399.00,163.85 L399.50,164.33 L400.00,164.78 L400.50,165.21 L401.00,165.61 L401.50,165.98 L402.00,166.34 L402.50,166.66 L403.00,166.96 L403.50,167.24 L404.00,167.49 L404.50,167.72 L405.00,167.92 L405.50,168.10 L406.00,168.25 L406.50,168.38 L407.00,168.49 L407.50,168.58 L408.00,168.65 L408.50,168.70 L409.00,168.73 L409.50,168.75 L410.00,168.75 L410.50,168.74 L411.00,168.72 L411.50,168.67 L412.00,168.59 L412.50,168.49 L413.00,168.36 L413.50,168.20 L414.00,168.01 L414.50,167.79 L415.00,167.54 L415.50,167.26 L416.00,166.95 L416.50,166.60 L417.00,166.23 L417.50,165.82 L418.00,165.38 L418.50,164.92 L419.00,164.42 L419.50,163.90 L420.00,163.35 L420.50,162.78 L421.00,162.18 L421.50,161.56 L422.00,160.92 L422.50,160.26 L423.00,159.58 L423.50,158.88 L424.00,158.17 L424.50,157.45 L425.00,156.72 L425.50,155.98 L426.00,155.23 L426.50,154.49 L427.00,153.73 L427.50,152.99 L428.00,152.24 L428.50,151.50 L429.00,150.77 L429.50,150.05 L430.00,149.34 L430.50,148.65 L431.00,147.98 L431.50,147.32 L432.00,146.69 L432.50,146.08 L433.00,145.51 L433.50,144.96 L434.00,144.44 L434.50,143.95 L435.00,143.50 L435.50,143.09 L436.00,142.71 L436.50,142.38 L437.00,142.08 L437.50,141.83 L438.00,141.62 L438.50,141.46 L439.00,141.34 L439.50,141.27 L440.00,141.25 L440.50,141.26 L441.00,141.30 L441.50,141.36 L442.00,141.45 L442.50,141.57 L443.00,141.70 L443.50,141.87 L444.00,142.06 L444.50,142.27 L445.00,142.50 L445.50,142.76 L446.00,143.04 L446.50,143.35 L447.00,143.67 L447.50,144.02 L448.00,144.39 L448.50,144.78 L449.00,145.18 L449.50,145.61 L450.00,146.05 L450.50,146.51 L451.00,146.98 L451.50,147.47 L452.00,147.98 L452.50,148.49 L453.00,149.02 L453.50,149.56 L454.00,150.10 L454.50,150.66 L455.00,151.22 L455.50,151.79 L456.00,152.36 L456.50,152.94 L457.00,153.52 L457.50,154.10 L458.00,154.68 L458.50,155.26 L459.00,155.84 L459.50,156.41 L460.00,156.98 L460.50,157.54 L461.00,158.09 L461.50,158.63 L462.00,159.17 L462.50,159.69 L463.00,160.20 L463.50,160.70 L464.00,161.18 L464.50,161.64 L465.00,162.09 L465.50,162.52 L466.00,162.93 L466.50,163.32 L467.00,163.68 L467.50,164.03 L468.00,164.35 L468.50,164.64 L469.00,164.91" fill="none" stroke="#1c955c" stroke-width="1.4" stroke-linejoin="round"/>
<path d="M71.00,170.00 L71.50,170.00 L72.00,170.00 L72.50,170.00 L73.00,170.00 L73.50,170.00 L74.00,170.00 L74.50,170.00 L75.00,170.00 L75.50,170.00 L76.00,170.00 L76.50,170.00 L77.00,170.00 L77.50,170.00 L78.00,170.00 L78.50,170.00 L79.00,170.00 L79.50,170.00 L80.00,170.00 L80.50,170.00 L81.00,170.00 L81.50,170.00 L82.00,170.00 L82.50,167.22 L83.00,160.92 L83.50,154.15 L84.00,149.14 L84.50,144.39 L85.00,140.04 L85.50,136.55 L86.00,133.87 L86.50,131.30 L87.00,129.11 L87.50,127.57 L88.00,127.00 L88.50,127.38 L89.00,128.38 L89.50,129.79 L90.00,131.40 L90.50,133.00 L91.00,134.68 L91.50,136.63 L92.00,138.80 L92.50,141.12 L93.00,143.54 L93.50,146.00 L94.00,148.55 L94.50,151.25 L95.00,154.08 L95.50,157.04 L96.00,160.11 L96.50,163.30 L97.00,166.80 L97.50,170.60 L98.00,174.63 L98.50,178.81 L99.00,183.08 L99.50,187.36 L100.00,191.60 L100.50,195.71 L101.00,199.63 L101.50,203.29 L102.00,206.62 L102.50,209.54 L103.00,212.00 L103.50,214.21 L104.00,216.42 L104.50,218.62 L105.00,220.77 L105.50,222.88 L106.00,224.90 L106.50,226.83 L107.00,228.65 L107.50,230.32 L108.00,231.84 L108.50,233.18 L109.00,234.32 L109.50,235.24 L110.00,235.93 L110.50,236.35 L111.00,236.50 L111.50,236.41 L112.00,236.15 L112.50,235.73 L113.00,235.17 L113.50,234.50 L114.00,233.72 L114.50,232.85 L115.00,231.92 L115.50,230.93 L116.00,229.91 L116.50,228.87 L117.00,227.83 L117.50,226.80 L118.00,225.81 L118.50,224.87 L119.00,224.00 L119.50,223.12 L120.00,222.14 L120.50,221.09 L121.00,219.99 L121.50,218.83 L122.00,217.65 L122.50,216.46 L123.00,215.26 L123.50,214.08 L124.00,212.94 L124.50,211.83 L125.00,210.80 L125.50,209.83 L126.00,208.96 L126.50,208.20 L127.00,207.56 L127.50,207.06 L128.00,206.71 L128.50,206.52 L129.00,206.55 L129.50,206.91 L130.00,207.59 L130.50,208.52 L131.00,209.67 L131.50,210.97 L132.00,212.38 L132.50,213.83 L133.00,215.29 L133.50,216.70 L134.00,218.00 L134.50,219.37 L135.00,220.97 L135.50,222.74 L136.00,224.60 L136.50,226.49 L137.00,228.35 L137.50,230.10 L138.00,231.69 L138.50,233.04 L139.00,234.08 L139.50,234.76 L140.00,235.00 L140.50,234.79 L141.00,234.21 L141.50,233.30 L142.00,232.13 L142.50,230.76 L143.00,229.24 L143.50,227.63 L144.00,226.00 L144.50,224.11 L145.00,221.74 L145.50,219.00 L146.00,215.97 L146.50,212.73 L147.00,209.38 L147.50,206.00 L148.00,202.31 L148.50,198.17 L149.00,193.88 L149.50,189.72 L150.00,186.00 L150.50,183.03 L151.00,180.49 L151.50,177.71 L152.00,174.00 L152.50,167.11 L153.00,160.00 L153.50,155.48 L154.00,151.63 L154.50,148.46 L155.00,146.00 L155.50,144.03 L156.00,142.35 L156.50,141.00 L157.00,140.00 L157.50,139.20 L158.00,138.49 L158.50,137.96 L159.00,137.71 L159.50,137.77 L160.00,138.03 L160.50,138.47 L161.00,139.05 L161.50,139.75 L162.00,140.54 L162.50,141.38 L163.00,142.26 L163.50,143.14 L164.00,144.00 L164.50,144.91 L165.00,145.93 L165.50,147.07 L166.00,148.28 L166.50,149.55 L167.00,150.85 L167.50,152.17 L168.00,153.48 L168.50,154.77 L169.00,156.00 L169.50,157.21 L170.00,158.42 L170.50,159.64 L171.00,160.86 L171.50,162.07 L172.00,163.29 L172.50,164.49 L173.00,165.68 L173.50,166.85 L174.00,168.00 L174.50,169.13 L175.00,170.26 L175.50,171.37 L176.00,172.47 L176.50,173.57 L177.00,174.65 L177.50,175.73 L178.00,176.79 L178.50,177.86 L179.00,178.91 L179.50,179.96 L180.00,181.00 L180.50,182.04 L181.00,183.07 L181.50,184.09 L182.00,185.11 L182.50,186.13 L183.00,187.13 L183.50,188.13 L184.00,189.12 L184.50,190.10 L185.00,191.08 L185.50,192.04 L186.00,193.00 L186.50,193.96 L187.00,194.93 L187.50,195.91 L188.00,196.89 L188.50,197.85 L189.00,198.80 L189.50,199.72 L190.00,200.61 L190.50,201.45 L191.00,202.25 L191.50,203.00 L192.00,203.75 L192.50,204.54 L193.00,205.34 L193.50,206.12 L194.00,206.85 L194.50,207.50 L195.00,208.04 L195.50,208.44 L196.00,208.66 L196.50,208.64 L197.00,208.07 L197.50,207.03 L198.00,205.71 L198.50,204.31 L199.00,203.00 L199.50,201.74 L200.00,200.39 L200.50,198.97 L201.00,197.53 L201.50,196.09 L202.00,194.70 L202.50,193.35 L203.00,192.00 L203.50,190.67 L204.00,189.34 L204.50,188.01 L205.00,186.68 L205.50,185.34 L206.00,184.00 L206.50,182.64 L207.00,181.27 L207.50,179.89 L208.00,178.50 L208.50,177.12 L209.00,175.75 L209.50,174.39 L210.00,173.05 L210.50,171.74 L211.00,170.40 L211.50,169.03 L212.00,167.68 L212.50,166.36 L213.00,165.12 L213.50,163.99 L214.00,163.00 L214.50,162.14 L215.00,161.37 L215.50,160.67 L216.00,160.00 L216.50,159.35 L217.00,158.69 L217.50,158.00 L218.00,157.26 L218.50,156.50 L219.00,155.73 L219.50,154.97 L220.00,154.25 L220.50,153.58 L221.00,153.00 L221.50,152.47 L222.00,151.97 L222.50,151.50 L223.00,151.06 L223.50,150.66 L224.00,150.30 L224.50,150.00 L225.00,149.73 L225.50,149.48 L226.00,149.24 L226.50,149.02 L227.00,148.82 L227.50,148.64 L228.00,148.47 L228.50,148.33 L229.00,148.20 L229.50,148.08 L230.00,147.96 L230.50,147.85 L231.00,147.75 L231.50,147.67 L232.00,147.62 L232.50,147.60 L233.00,147.62 L233.50,147.67 L234.00,147.74 L234.50,147.84 L235.00,147.96 L235.50,148.09 L236.00,148.22 L236.50,148.36 L237.00,148.50 L237.50,148.64 L238.00,148.79 L238.50,148.94 L239.00,149.11 L239.50,149.29 L240.00,149.49 L240.50,149.69 L241.00,149.91 L241.50,150.15 L242.00,150.40 L242.50,150.68 L243.00,150.96 L243.50,151.27 L244.00,151.60 L244.50,151.98 L245.00,152.45 L245.50,153.00 L246.00,153.62 L246.50,154.30 L247.00,155.03 L247.50,155.81 L248.00,156.62 L248.50,157.46 L249.00,158.32 L249.50,159.19 L250.00,160.06 L250.50,160.92 L251.00,161.77 L251.50,162.60 L252.00,163.43 L252.50,164.30 L253.00,165.19 L253.50,166.11 L254.00,167.04 L254.50,167.98 L255.00,168.92 L255.50,169.86 L256.00,170.78 L256.50,171.69 L257.00,172.58 L257.50,173.43 L258.00,174.27 L258.50,175.11 L259.00,175.95 L259.50,176.79 L260.00,177.62 L260.50,178.44 L261.00,179.24 L261.50,180.01 L262.00,180.76 L262.50,181.47 L263.00,182.14 L263.50,182.76 L264.00,183.35 L264.50,183.94 L265.00,184.54 L265.50,185.12 L266.00,185.68 L266.50,186.20 L267.00,186.69 L267.50,187.12 L268.00,187.49 L268.50,187.79 L269.00,188.00 L269.50,188.16 L270.00,188.32 L270.50,188.46 L271.00,188.58 L271.50,188.67 L272.00,188.73 L272.50,188.75 L273.00,188.51 L273.50,187.86 L274.00,186.91 L274.50,185.74 L275.00,184.47 L275.50,183.19 L276.00,182.00 L276.50,180.80 L277.00,179.46 L277.50,178.03 L278.00,176.57 L278.50,175.13 L279.00,173.77 L279.50,172.54 L280.00,171.50 L280.50,170.59 L281.00,169.71 L281.50,168.86 L282.00,168.05 L282.50,167.26 L283.00,166.51 L283.50,165.79 L284.00,165.11 L284.50,164.45 L285.00,163.83 L285.50,163.24 L286.00,162.67 L286.50,162.14 L287.00,161.65 L287.50,161.18 L288.00,160.74 L288.50,160.31 L289.00,159.89 L289.50,159.49 L290.00,159.10 L290.50,158.72 L291.00,158.36 L291.50,158.02 L292.00,157.69 L292.50,157.38 L293.00,157.09 L293.50,156.82 L294.00,156.57 L294.50,156.35 L295.00,156.14 L295.50,155.97 L296.00,155.79 L296.50,155.63 L297.00,155.46 L297.50,155.29 L298.00,155.13 L298.50,154.98 L299.00,154.83 L299.50,154.69 L300.00,154.55 L300.50,154.42 L301.00,154.30 L301.50,154.20 L302.00,154.10 L302.50,154.01 L303.00,153.94 L303.50,153.88 L304.00,153.84 L304.50,153.81 L305.00,153.80 L305.50,153.80 L306.00,153.81 L306.50,153.81 L307.00,153.83 L307.50,153.84 L308.00,153.86 L308.50,153.88 L309.00,153.90 L309.50,153.96 L310.00,154.09 L310.50,154.27 L311.00,154.49 L311.50,154.75 L312.00,155.03 L312.50,155.32 L313.00,155.62 L313.50,155.98 L314.00,156.41 L314.50,156.88 L315.00,157.41 L315.50,157.98 L316.00,158.58 L316.50,159.21 L317.00,159.86 L317.50,160.53 L318.00,161.20 L318.50,161.87 L319.00,162.55 L319.50,163.28 L320.00,164.05 L320.50,164.85 L321.00,165.68 L321.50,166.53 L322.00,167.39 L322.50,168.26 L323.00,169.13 L323.50,169.99 L324.00,170.84 L324.50,171.66 L325.00,172.50 L325.50,173.36 L326.00,174.24 L326.50,175.12 L327.00,176.00 L327.50,176.86 L328.00,177.71 L328.50,178.53 L329.00,179.31 L329.50,180.05 L330.00,180.74 L330.50,181.38 L331.00,182.03 L331.50,182.67 L332.00,183.31 L332.50,183.92 L333.00,184.51 L333.50,185.07 L334.00,185.58 L334.50,186.04 L335.00,186.43 L335.50,186.76 L336.00,187.00 L336.50,187.20 L337.00,187.39 L337.50,187.57 L338.00,187.72 L338.50,187.85 L339.00,187.94 L339.50,187.99 L340.00,187.99 L340.50,187.92 L341.00,187.78 L341.50,187.57 L342.00,187.31 L342.50,187.00 L343.00,186.65 L343.50,186.27 L344.00,185.86 L344.50,185.44 L345.00,185.01 L345.50,184.58 L346.00,184.13 L346.50,183.61 L347.00,183.01 L347.50,182.35 L348.00,181.65 L348.50,180.90 L349.00,180.13 L349.50,179.33 L350.00,178.53 L350.50,177.72 L351.00,176.92 L351.50,176.15 L352.00,175.34 L352.50,174.50 L353.00,173.63 L353.50,172.74 L354.00,171.84 L354.50,170.95 L355.00,170.06 L355.50,169.19 L356.00,168.34 L356.50,167.54 L357.00,166.79 L357.50,166.08 L358.00,165.37 L358.50,164.66 L359.00,163.96 L359.50,163.28 L360.00,162.62 L360.50,161.99 L361.00,161.40 L361.50,160.84 L362.00,160.34 L362.50,159.89 L363.00,159.50 L363.50,159.15 L364.00,158.80 L364.50,158.45 L365.00,158.12 L365.50,157.81 L366.00,157.52 L366.50,157.26 L367.00,157.03 L367.50,156.83 L368.00,156.67 L368.50,156.56 L369.00,156.50 L369.50,156.47 L370.00,156.43 L370.50,156.40 L371.00,156.38 L371.50,156.35 L372.00,156.34 L372.50,156.32 L373.00,156.31 L373.50,156.30 L374.00,156.30 L374.50,156.31 L375.00,156.35 L375.50,156.42 L376.00,156.51 L376.50,156.63 L377.00,156.78 L377.50,156.95 L378.00,157.14 L378.50,157.36 L379.00,157.60 L379.50,157.86 L380.00,158.14 L380.50,158.44 L381.00,158.76 L381.50,159.10 L382.00,159.46 L382.50,159.83 L383.00,160.22 L383.50,160.62 L384.00,161.03 L384.50,161.46 L385.00,161.89 L385.50,162.34 L386.00,162.79 L386.50,163.25 L387.00,163.72 L387.50,164.19 L388.00,164.66 L388.50,165.14 L389.00,165.62 L389.50,166.10 L390.00,166.58 L390.50,167.05 L391.00,167.53 L391.50,168.00 L392.00,168.46 L392.50,168.92 L393.00,169.37 L393.50,169.82 L394.00,170.25 L394.50,170.68 L395.00,171.10 L395.50,171.51 L396.00,171.90 L396.50,172.29 L397.00,172.66 L397.50,173.02 L398.00,173.36 L398.50,173.70 L399.00,174.01 L399.50,174.32 L400.00,174.60 L400.50,174.88 L401.00,175.14 L401.50,175.38 L402.00,175.61 L402.50,175.82 L403.00,176.01 L403.50,176.20 L404.00,176.36 L404.50,176.51 L405.00,176.65 L405.50,176.77 L406.00,176.88 L406.50,176.97 L407.00,177.05 L407.50,177.12 L408.00,177.18 L408.50,177.22 L409.00,177.25 L409.50,177.28 L410.00,177.29 L410.50,177.30 L411.00,177.30 L411.50,177.30 L412.00,177.29 L412.50,177.26 L413.00,177.23 L413.50,177.18 L414.00,177.12 L414.50,177.04 L415.00,176.95 L415.50,176.84 L416.00,176.71 L416.50,176.57 L417.00,176.41 L417.50,176.23 L418.00,176.04 L418.50,175.83 L419.00,175.60 L419.50,175.35 L420.00,175.09 L420.50,174.81 L421.00,174.51 L421.50,174.20 L422.00,173.88 L422.50,173.54 L423.00,173.18 L423.50,172.81 L424.00,172.43 L424.50,172.03 L425.00,171.63 L425.50,171.21 L426.00,170.78 L426.50,170.35 L427.00,169.91 L427.50,169.46 L428.00,169.00 L428.50,168.54 L429.00,168.08 L429.50,167.62 L430.00,167.15 L430.50,166.69 L431.00,166.22 L431.50,165.76 L432.00,165.31 L432.50,164.86 L433.00,164.41 L433.50,163.98 L434.00,163.55 L434.50,163.14 L435.00,162.73 L435.50,162.34 L436.00,161.96 L436.50,161.60 L437.00,161.26 L437.50,160.93 L438.00,160.63 L438.50,160.34 L439.00,160.07 L439.50,159.83 L440.00,159.61 L440.50,159.41 L441.00,159.24 L441.50,159.09 L442.00,158.97 L442.50,158.87 L443.00,158.81 L443.50,158.76 L444.00,158.75 L444.50,158.76 L445.00,158.80 L445.50,158.85 L446.00,158.93 L446.50,159.03 L447.00,159.16 L447.50,159.30 L448.00,159.47 L448.50,159.66 L449.00,159.87 L449.50,160.09 L450.00,160.34 L450.50,160.61 L451.00,160.90 L451.50,161.21 L452.00,161.53 L452.50,161.87 L453.00,162.22 L453.50,162.59 L454.00,162.98 L454.50,163.38 L455.00,163.78 L455.50,164.20 L456.00,164.64 L456.50,165.08 L457.00,165.52 L457.50,165.98 L458.00,166.44 L458.50,166.90 L459.00,167.37 L459.50,167.84 L460.00,168.31 L460.50,168.78 L461.00,169.25 L461.50,169.72 L462.00,170.18 L462.50,170.64 L463.00,171.09 L463.50,171.53 L464.00,171.96 L464.50,172.39 L465.00,172.80 L465.50,173.20 L466.00,173.58 L466.50,173.95 L467.00,174.31 L467.50,174.65 L468.00,174.96 L468.50,175.26 L469.00,175.54" fill="none" stroke="#1c955c" stroke-width="1.4" stroke-linejoin="round"/>

<path d="M71.00,160.00h0M72.00,160.00h0M73.00,160.00h0M74.00,160.00h0M75.00,160.00h0M76.00,160.00h0M77.00,160.00h0M78.00,160.00h0M79.00,160.00h0M80.00,160.00h0M81.00,160.00h0M81.55,157.48h0M81.63,154.78h0M81.70,152.08h0M81.77,149.33h0M81.84,146.63h0M81.91,143.93h0M81.98,141.23h0M82.02,138.48h0M82.05,135.78h0M82.08,133.03h0M82.10,130.33h0M82.13,127.58h0M82.16,124.83h0M82.19,122.13h0M82.22,119.43h0M82.24,116.68h0M82.27,113.93h0M82.30,111.18h0M82.33,108.48h0M82.36,105.73h0M82.39,103.03h0M82.41,100.29h0M82.44,97.59h0M82.47,94.89h0M82.50,92.19h0M82.55,89.44h0M82.61,86.69h0M82.67,83.94h0M82.73,81.19h0M82.79,78.44h0M82.85,75.69h0M82.91,72.94h0M82.96,70.19h0M83.04,67.44h0M83.13,64.69h0M83.23,61.94h0M83.33,59.20h0M83.42,56.45h0M83.53,53.70h0M83.70,50.96h0M83.87,48.21h0M84.05,45.47h0M84.34,42.73h0M84.66,40.00h0M85.13,37.30h0M86.14,37.33h0M86.88,39.98h0M87.51,42.65h0M88.15,45.33h0M88.73,48.02h0M89.26,50.71h0M89.75,53.42h0M90.20,56.13h0M90.62,58.85h0M91.01,61.57h0M91.38,64.30h0M91.71,67.03h0M92.01,69.76h0M92.26,72.50h0M92.51,75.24h0M92.72,77.98h0M92.94,80.72h0M93.14,83.46h0M93.34,86.21h0M93.54,88.95h0M93.74,91.69h0M93.93,94.44h0M94.13,97.18h0M94.33,99.92h0M94.53,102.66h0M94.75,105.41h0M94.96,108.15h0M95.21,110.89h0M95.45,113.63h0M95.71,116.36h0M95.97,119.10h0M96.23,121.84h0M96.49,124.58h0M96.76,127.31h0M97.03,130.05h0M97.30,132.74h0M97.58,135.47h0M97.87,138.21h0M98.16,140.94h0M98.46,143.67h0M98.77,146.41h0M99.09,149.14h0M99.41,151.82h0M99.75,154.55h0M100.36,159.16h0M101.00,163.76h0M101.66,168.37h0M102.34,172.97h0M103.04,177.56h0M103.77,182.16h0M104.52,186.74h0M105.31,191.33h0M106.13,195.91h0M106.98,200.48h0M107.88,205.04h0M108.82,209.59h0M109.81,214.14h0M110.80,218.68h0M111.75,223.23h0M112.69,227.78h0M113.66,232.33h0M114.67,236.67h0M115.68,240.38h0M116.69,243.25h0M117.71,245.02h0M118.75,245.47h0M119.78,245.13h0M120.80,244.33h0M121.82,243.09h0M122.83,241.43h0M123.83,239.36h0M124.84,236.86h0M125.85,233.51h0M126.85,231.09h0M127.75,227.49h0M128.60,224.56h0M129.39,221.58h0M130.15,217.84h0M130.87,214.53h0M131.57,210.78h0M132.25,207.71h0M132.91,204.68h0M133.55,201.59h0M134.18,198.44h0M134.80,194.68h0M135.42,191.04h0M136.02,187.99h0M136.62,185.38h0M137.22,181.32h0M137.81,178.28h0M138.40,175.51h0M138.99,171.22h0M139.59,168.55h0M140.18,165.64h0M140.78,161.55h0M141.38,158.61h0M141.99,155.71h0M142.61,151.57h0M143.24,148.70h0M143.88,145.67h0M144.53,142.29h0M145.20,138.79h0M145.90,135.22h0M146.61,132.26h0M147.36,128.87h0M148.14,125.72h0M148.96,122.35h0M149.85,119.64h0M150.81,116.36h0M151.81,112.87h0M152.82,110.54h0M153.83,107.99h0M154.85,106.35h0M155.86,104.87h0M156.88,104.26h0M157.91,103.44h0M158.95,103.49h0M159.96,104.06h0M161.00,104.31h0M162.02,105.74h0M163.03,106.12h0M164.03,108.17h0M165.04,109.54h0M166.05,111.50h0M167.06,113.96h0M168.07,116.29h0M169.08,118.84h0M170.09,121.26h0M171.10,124.40h0M172.11,128.27h0M173.07,131.27h0M174.01,134.68h0M174.93,138.18h0M175.83,141.11h0M176.72,143.65h0M177.60,147.16h0M178.48,150.71h0M179.36,153.55h0M180.25,157.58h0M181.14,160.79h0M182.05,163.90h0M182.98,166.71h0M183.93,170.33h0M184.92,172.75h0M185.94,176.08h0M186.94,179.18h0M187.95,182.26h0M188.96,184.54h0M189.97,186.49h0M191.00,188.84h0M192.01,190.66h0M193.01,192.18h0M194.02,193.34h0M195.05,194.64h0M196.07,195.39h0M197.08,196.17h0M198.12,196.32h0M199.15,195.86h0M200.18,195.40h0M201.20,195.12h0M202.23,194.37h0M203.25,193.05h0M204.27,191.88h0M205.28,190.55h0M206.28,187.88h0M207.28,186.96h0M208.28,184.29h0M209.30,182.33h0M210.30,180.39h0M211.30,177.90h0M212.30,174.77h0M213.32,172.72h0M214.33,169.41h0M215.33,167.06h0M216.34,164.84h0M217.36,161.70h0M218.36,159.22h0M219.37,156.70h0M220.37,154.24h0M221.39,151.67h0M222.39,148.45h0M223.40,146.61h0M224.40,144.54h0M225.42,142.08h0M226.44,140.78h0M227.46,139.19h0M228.46,138.00h0M229.46,136.88h0M230.48,134.95h0M231.49,134.25h0M232.53,134.12h0M233.57,133.20h0M234.62,133.20h0M235.66,133.68h0M236.68,133.48h0M237.71,134.56h0M238.72,135.18h0M239.76,134.97h0M240.77,136.33h0M241.79,137.58h0M242.82,138.86h0M243.83,139.27h0M244.84,140.46h0M245.87,142.65h0M246.88,144.18h0M247.88,144.95h0M248.90,146.88h0M249.93,148.90h0M250.93,150.77h0M251.93,151.81h0M252.96,154.20h0M253.97,156.19h0M254.99,157.74h0M256.01,159.16h0M257.01,160.80h0M258.03,162.85h0M259.05,165.15h0M260.06,165.98h0M261.08,167.54h0M262.11,169.47h0M263.12,170.57h0M264.12,171.97h0M265.15,173.07h0M266.16,174.72h0M267.16,175.89h0M268.19,176.46h0M269.21,176.87h0M270.25,177.68h0M271.26,178.40h0M272.27,179.07h0M273.31,179.27h0M274.36,178.44h0M275.39,178.01h0M276.39,178.60h0M277.44,178.22h0M278.46,177.09h0M279.47,176.69h0M280.49,175.91h0M281.52,174.61h0M282.53,173.79h0M283.55,171.63h0M284.56,170.60h0M285.57,169.23h0M286.57,167.62h0M287.57,167.00h0M288.59,164.48h0M289.59,163.64h0M290.62,161.38h0M291.64,160.10h0M292.65,158.61h0M293.68,156.81h0M294.69,155.69h0M295.71,154.28h0M296.73,152.69h0M297.73,151.90h0M298.75,150.10h0M299.75,149.09h0M300.78,148.31h0M301.79,147.53h0M302.83,146.64h0M303.85,146.89h0M304.88,146.40h0M305.90,145.36h0M306.94,145.56h0M307.99,145.45h0M309.03,145.85h0M310.05,145.91h0M311.09,146.51h0M312.09,147.42h0M313.11,147.36h0M314.13,148.28h0M315.16,148.94h0M316.19,149.90h0M317.22,150.01h0M318.23,151.66h0M319.24,152.85h0M320.27,153.50h0M321.27,154.20h0M322.30,155.71h0M323.31,156.86h0M324.32,157.91h0M325.33,158.46h0M326.34,160.48h0M327.36,161.56h0M328.39,162.07h0M329.40,163.29h0M330.43,163.70h0M331.46,165.70h0M332.47,166.40h0M333.48,167.02h0M334.48,167.90h0M335.52,167.97h0M336.56,168.70h0M337.59,169.15h0M338.61,169.94h0M339.61,169.70h0M340.64,170.80h0M341.68,170.44h0M342.73,170.43h0M343.78,169.99h0M344.82,170.48h0M345.85,170.41h0M346.86,169.93h0M347.90,169.14h0M348.92,169.33h0M349.96,168.14h0M350.98,168.36h0M352.02,167.49h0M353.04,166.54h0M354.04,166.12h0M355.07,165.53h0M356.08,164.39h0M357.12,164.26h0M358.14,162.99h0M359.17,162.71h0M360.19,161.84h0M361.21,160.22h0M362.23,160.02h0M363.26,158.86h0M364.30,158.57h0M365.31,157.60h0M366.34,156.79h0M367.34,156.61h0M368.36,155.06h0M369.40,155.02h0M370.42,154.24h0M371.47,153.44h0M372.49,153.82h0M373.53,153.26h0M374.55,153.35h0M375.57,152.81h0M376.62,152.39h0M377.66,153.04h0M378.71,152.09h0M379.76,152.10h0M380.80,152.99h0M381.83,152.79h0M382.85,153.03h0M383.86,153.90h0M384.89,153.66h0M385.91,154.69h0M386.92,154.86h0M387.95,155.02h0M388.97,155.25h0M389.98,156.01h0M391.02,157.40h0M392.05,157.40h0M393.08,157.75h0M394.10,158.53h0M395.12,159.82h0M396.14,159.64h0M397.17,160.94h0M398.20,160.84h0M399.25,162.35h0M400.26,162.42h0M401.28,162.41h0M402.32,163.88h0M403.33,163.69h0M404.35,164.50h0M405.40,164.62h0M406.40,164.44h0M407.43,164.69h0M408.46,164.92h0M409.50,165.06h0M410.55,165.00h0M411.60,164.99h0M412.65,165.94h0M413.70,164.91h0M414.74,165.24h0M415.77,164.64h0M416.80,164.54h0M417.83,164.91h0M418.84,164.83h0M419.85,164.02h0M420.89,163.16h0M421.93,163.89h0M422.96,162.46h0M423.98,162.43h0M425.00,162.17h0M426.01,162.13h0M427.02,161.61h0M428.02,160.92h0M429.02,160.24h0M430.03,160.27h0M431.03,159.85h0M432.04,159.41h0M433.05,158.80h0M434.06,157.70h0M435.08,157.50h0M436.10,157.31h0M437.14,156.96h0M438.18,156.97h0M439.18,156.00h0M440.19,156.19h0M441.21,155.61h0M442.24,155.83h0M443.27,155.01h0M444.31,155.17h0M445.36,154.65h0M446.40,154.71h0M447.45,155.48h0M448.50,154.82h0M449.55,155.51h0M450.60,155.21h0M451.64,154.81h0M452.67,155.81h0M453.70,155.21h0M454.72,156.30h0M455.74,155.66h0M456.75,156.69h0M457.75,156.44h0M458.79,156.98h0M459.83,158.02h0M460.87,157.88h0M461.90,158.46h0M462.92,158.95h0M463.95,158.65h0M464.97,159.85h0M466.00,160.32h0M467.03,159.87h0M468.07,160.67h0" fill="none" stroke="#1818d0" stroke-width="2.95" stroke-linecap="round"/>
</g>
<rect x="71.0" y="7.7" width="398.2" height="305.3" fill="none" stroke="#000" stroke-width="1.6"/>
<path d="M80.00,313.0v-5.0M80.00,7.7v4.2M104.31,313.0v-2.9M104.31,7.7v3.1M128.62,313.0v-2.9M128.62,7.7v3.1M152.94,313.0v-2.9M152.94,7.7v3.1M177.25,313.0v-5.0M177.25,7.7v4.2M201.56,313.0v-2.9M201.56,7.7v3.1M225.88,313.0v-2.9M225.88,7.7v3.1M250.19,313.0v-2.9M250.19,7.7v3.1M274.50,313.0v-5.0M274.50,7.7v4.2M298.81,313.0v-2.9M298.81,7.7v3.1M323.12,313.0v-2.9M323.12,7.7v3.1M347.44,313.0v-2.9M347.44,7.7v3.1M371.75,313.0v-5.0M371.75,7.7v4.2M396.06,313.0v-2.9M396.06,7.7v3.1M420.38,313.0v-2.9M420.38,7.7v3.1M444.69,313.0v-2.9M444.69,7.7v3.1M469.00,313.0v-5.0M469.00,7.7v4.2M71.0,236.50h5.2M71.0,160.00h5.2M71.0,83.50h5.2M469.2,303.44h-3.0M469.2,293.88h-3.0M469.2,284.31h-3.0M469.2,274.75h-3.0M469.2,265.19h-3.0M469.2,255.62h-3.0M469.2,246.06h-3.0M469.2,236.50h-5M469.2,226.94h-3.0M469.2,217.38h-3.0M469.2,207.81h-3.0M469.2,198.25h-3.0M469.2,188.69h-3.0M469.2,179.12h-3.0M469.2,169.56h-3.0M469.2,160.00h-5M469.2,150.44h-3.0M469.2,140.88h-3.0M469.2,131.31h-3.0M469.2,121.75h-3.0M469.2,112.19h-3.0M469.2,102.62h-3.0M469.2,93.06h-3.0M469.2,83.50h-5M469.2,73.94h-3.0M469.2,64.38h-3.0M469.2,54.81h-3.0M469.2,45.25h-3.0M469.2,35.69h-3.0M469.2,26.12h-3.0M469.2,16.56h-3.0" stroke="#000" stroke-width="1.3" fill="none"/>
<g font-family="Liberation Serif, serif">
<text x="62.9" y="13.5" font-size="19" text-anchor="end" fill="#000" stroke="#000" stroke-width="0.55" textLength="30.2" lengthAdjust="spacingAndGlyphs" >200</text>
<text x="62.9" y="90.0" font-size="19" text-anchor="end" fill="#000" stroke="#000" stroke-width="0.55" textLength="30.2" lengthAdjust="spacingAndGlyphs" >100</text>
<text x="62.9" y="166.5" font-size="19" text-anchor="end" fill="#000" stroke="#000" stroke-width="0.55" textLength="10.2" lengthAdjust="spacingAndGlyphs" >0</text>
<text x="62.9" y="243.0" font-size="19" text-anchor="end" fill="#000" stroke="#000" stroke-width="0.55" textLength="36.4" lengthAdjust="spacingAndGlyphs" >-100</text>
<text x="62.9" y="319.5" font-size="19" text-anchor="end" fill="#000" stroke="#000" stroke-width="0.55" textLength="36.4" lengthAdjust="spacingAndGlyphs" >-200</text>
<text x="79.7" y="338.3" font-size="19" text-anchor="middle" fill="#000" stroke="#000" stroke-width="0.55" textLength="10.2" lengthAdjust="spacingAndGlyphs" >0</text>
<text x="176.9" y="338.3" font-size="19" text-anchor="middle" fill="#000" stroke="#000" stroke-width="0.55" textLength="20.0" lengthAdjust="spacingAndGlyphs" >20</text>
<text x="274.2" y="338.3" font-size="19" text-anchor="middle" fill="#000" stroke="#000" stroke-width="0.55" textLength="20.0" lengthAdjust="spacingAndGlyphs" >40</text>
<text x="371.4" y="338.3" font-size="19" text-anchor="middle" fill="#000" stroke="#000" stroke-width="0.55" textLength="20.0" lengthAdjust="spacingAndGlyphs" >60</text>
<text x="468.7" y="338.3" font-size="19" text-anchor="middle" fill="#000" stroke="#000" stroke-width="0.55" textLength="20.0" lengthAdjust="spacingAndGlyphs" >80</text>
<text x="475.4" y="13.5" font-size="19" text-anchor="start" fill="#000" stroke="#000" stroke-width="0.55" textLength="10.2" lengthAdjust="spacingAndGlyphs" >8</text>
<text x="475.4" y="90.0" font-size="19" text-anchor="start" fill="#000" stroke="#000" stroke-width="0.55" textLength="10.2" lengthAdjust="spacingAndGlyphs" >4</text>
<text x="475.4" y="166.5" font-size="19" text-anchor="start" fill="#000" stroke="#000" stroke-width="0.55" textLength="10.2" lengthAdjust="spacingAndGlyphs" >0</text>
<text x="475.4" y="243.0" font-size="19" text-anchor="start" fill="#000" stroke="#000" stroke-width="0.55" textLength="16.6" lengthAdjust="spacingAndGlyphs" >-4</text>
<text x="475.4" y="319.5" font-size="19" text-anchor="start" fill="#000" stroke="#000" stroke-width="0.55" textLength="16.6" lengthAdjust="spacingAndGlyphs" >-8</text>
<text x="252.00" y="363" font-size="20" font-style="italic" fill="#000" stroke="#000" stroke-width="0.3" textLength="6.50" lengthAdjust="spacingAndGlyphs">t</text>
<text transform="translate(259.00,367.3) skewX(-8)" x="0" y="0" font-size="30" fill="#000" stroke="#000" stroke-width="0.15">/</text>
<text x="269.00" y="363" font-size="20" font-style="italic" fill="#000" stroke="#000" stroke-width="0.38" textLength="10.00" lengthAdjust="spacingAndGlyphs">µ</text>
<text x="279.50" y="363" font-size="20" fill="#000" stroke="#000" stroke-width="0.38" textLength="7.50" lengthAdjust="spacingAndGlyphs">s</text>
<g transform="translate(15.9,0) rotate(-90)">
<text x="-221.40" y="0" font-size="20" font-style="italic" fill="#d8121c" stroke="#d8121c" stroke-width="0.38" textLength="9.40" lengthAdjust="spacingAndGlyphs">I</text>
<text x="-211.30" y="3.5" font-size="14" fill="#d8121c" stroke="#d8121c" stroke-width="0.38" textLength="11.10" lengthAdjust="spacingAndGlyphs">sa</text>
<text transform="translate(-201.00,4.3) skewX(-23)" x="0" y="0" font-size="31" fill="#d8121c" stroke="#d8121c" stroke-width="0.15">/</text>
<text x="-190.40" y="0" font-size="20" fill="#d8121c" stroke="#d8121c" stroke-width="0.38" textLength="14.40" lengthAdjust="spacingAndGlyphs">A</text>
<text x="-174.50" y="0" font-size="20" fill="#d8121c" stroke="#d8121c" stroke-width="0.38" textLength="3.50" lengthAdjust="spacingAndGlyphs">,</text>
<text x="-162.40" y="0" font-size="20" font-style="italic" fill="#1818d0" stroke="#1818d0" stroke-width="0.38" textLength="13.40" lengthAdjust="spacingAndGlyphs">E</text>
<text x="-148.70" y="3.5" font-size="14" font-style="italic" fill="#1818d0" stroke="#1818d0" stroke-width="0.38" textLength="8.70" lengthAdjust="spacingAndGlyphs">θ</text>
<text transform="translate(-140.10,4.3) skewX(-23)" x="0" y="0" font-size="31" fill="#1818d0" stroke="#1818d0" stroke-width="0.15">/</text>
<text x="-122.60" y="0" font-size="17.5" font-weight="bold" fill="#1818d0" stroke="#1818d0" stroke-width="0" textLength="23.80" lengthAdjust="spacingAndGlyphs">a.u.</text>
</g>
<g transform="translate(515.2,0) rotate(-90)">
<text x="-303.40" y="0" font-size="20" font-style="italic" fill="#000" stroke="#000" stroke-width="0.38" textLength="14.10" lengthAdjust="spacingAndGlyphs">E</text>
<text x="-288.50" y="4" font-size="14" fill="#000" stroke="#000" stroke-width="0.38" textLength="9.20" lengthAdjust="spacingAndGlyphs">⊥</text>
<text x="-277.40" y="4" font-size="14" fill="#000" stroke="#000" stroke-width="0.38" textLength="2.50" lengthAdjust="spacingAndGlyphs">,</text>
<text x="-274.00" y="3.5" font-size="13" font-style="italic" font-weight="bold" fill="#000" stroke="#000" stroke-width="0" textLength="12.70" lengthAdjust="spacingAndGlyphs">rz</text>
<text transform="translate(-261.60,4.3) skewX(-23)" x="0" y="0" font-size="31" fill="#000" stroke="#000" stroke-width="0.15">/</text>
<text x="-248.10" y="0" font-size="20" fill="#000" stroke="#000" stroke-width="0.38" textLength="13.30" lengthAdjust="spacingAndGlyphs">V</text>
<text x="-231.80" y="1.2" font-size="26" font-weight="bold" fill="#000" stroke="#000" stroke-width="0.2" textLength="4.60" lengthAdjust="spacingAndGlyphs">·</text>
<text x="-224.10" y="0" font-size="20" fill="#000" stroke="#000" stroke-width="0.38" textLength="25.90" lengthAdjust="spacingAndGlyphs">cm</text>
<text x="-195.20" y="-8.3" font-size="14" fill="#000" stroke="#000" stroke-width="0.38" textLength="8.00" lengthAdjust="spacingAndGlyphs">−</text>
<text x="-186.20" y="-8.3" font-size="14" fill="#000" stroke="#000" stroke-width="0.38" textLength="7.10" lengthAdjust="spacingAndGlyphs">1</text>
<text x="-175.50" y="0" font-size="20" fill="#000" stroke="#000" stroke-width="0.38" textLength="3.50" lengthAdjust="spacingAndGlyphs">,</text>
<text x="-161.40" y="0" font-size="20" fill="#1c955c" stroke="#1c955c" stroke-width="0.38" textLength="14.10" lengthAdjust="spacingAndGlyphs">Δ</text>
<text x="-146.30" y="0" font-size="20" font-style="italic" fill="#1c955c" stroke="#1c955c" stroke-width="0.38" textLength="14.10" lengthAdjust="spacingAndGlyphs">E</text>
<text x="-131.40" y="4" font-size="14" fill="#1c955c" stroke="#1c955c" stroke-width="0.38" textLength="9.20" lengthAdjust="spacingAndGlyphs">⊥</text>
<text x="-120.30" y="4" font-size="14" fill="#1c955c" stroke="#1c955c" stroke-width="0.38" textLength="2.50" lengthAdjust="spacingAndGlyphs">,</text>
<text x="-116.90" y="3.5" font-size="13" font-style="italic" font-weight="bold" fill="#1c955c" stroke="#1c955c" stroke-width="0" textLength="12.70" lengthAdjust="spacingAndGlyphs">rz</text>
<text transform="translate(-104.50,4.3) skewX(-23)" x="0" y="0" font-size="31" fill="#1c955c" stroke="#1c955c" stroke-width="0.15">/</text>
<text x="-91.00" y="0" font-size="20" fill="#1c955c" stroke="#1c955c" stroke-width="0.38" textLength="13.30" lengthAdjust="spacingAndGlyphs">V</text>
<text x="-74.70" y="1.2" font-size="26" font-weight="bold" fill="#1c955c" stroke="#1c955c" stroke-width="0.2" textLength="4.60" lengthAdjust="spacingAndGlyphs">·</text>
<text x="-67.00" y="0" font-size="20" fill="#1c955c" stroke="#1c955c" stroke-width="0.38" textLength="25.90" lengthAdjust="spacingAndGlyphs">cm</text>
<text x="-38.10" y="-8.3" font-size="14" fill="#1c955c" stroke="#1c955c" stroke-width="0.38" textLength="8.00" lengthAdjust="spacingAndGlyphs">−</text>
<text x="-29.10" y="-8.3" font-size="14" fill="#1c955c" stroke="#1c955c" stroke-width="0.38" textLength="7.10" lengthAdjust="spacingAndGlyphs">1</text>
</g>
<text x="74.60" y="30.8" font-size="20" font-style="italic" fill="#1818d0" stroke="#1818d0" stroke-width="0.38" textLength="12.60" lengthAdjust="spacingAndGlyphs">E</text>
<text x="87.50" y="34" font-size="14" font-style="italic" fill="#1818d0" stroke="#1818d0" stroke-width="0.38" textLength="6.50" lengthAdjust="spacingAndGlyphs">θ</text>
<text x="111.30" y="48" font-size="20" font-style="italic" fill="#d8121c" stroke="#d8121c" stroke-width="0.3" textLength="7.50" lengthAdjust="spacingAndGlyphs">I</text>
<text x="119.20" y="51.3" font-size="14" fill="#d8121c" stroke="#d8121c" stroke-width="0.35" textLength="10.60" lengthAdjust="spacingAndGlyphs">sa</text>
<text x="165.00" y="42.5" font-size="20" font-style="italic" fill="#000" stroke="#000" stroke-width="0.38" textLength="14.20" lengthAdjust="spacingAndGlyphs">E</text>
<text x="179.60" y="45.9" font-size="14" fill="#000" stroke="#000" stroke-width="0.38" textLength="9.40" lengthAdjust="spacingAndGlyphs">⊥</text>
<text x="190.30" y="45.9" font-size="14" fill="#000" stroke="#000" stroke-width="0.38" textLength="2.50" lengthAdjust="spacingAndGlyphs">,</text>
<text x="193.70" y="45.7" font-size="13" font-style="italic" font-weight="bold" fill="#000" stroke="#000" stroke-width="0" textLength="11.50" lengthAdjust="spacingAndGlyphs">rz</text>
<text x="101.80" y="278.9" font-size="20" fill="#1c955c" stroke="#1c955c" stroke-width="0.38" textLength="14.30" lengthAdjust="spacingAndGlyphs">Δ</text>
<text x="116.70" y="278.9" font-size="20" font-style="italic" fill="#1c955c" stroke="#1c955c" stroke-width="0.38" textLength="14.84" lengthAdjust="spacingAndGlyphs">E</text>
<text x="131.96" y="282.29999999999995" font-size="14" fill="#1c955c" stroke="#1c955c" stroke-width="0.38" textLength="9.82" lengthAdjust="spacingAndGlyphs">⊥</text>
<text x="143.14" y="282.29999999999995" font-size="14" fill="#1c955c" stroke="#1c955c" stroke-width="0.38" textLength="2.61" lengthAdjust="spacingAndGlyphs">,</text>
<text x="146.69" y="282.09999999999997" font-size="13" font-style="italic" font-weight="bold" fill="#1c955c" stroke="#1c955c" stroke-width="0" textLength="12.02" lengthAdjust="spacingAndGlyphs">rz</text>
</g>
<line x1="177.5" y1="47.5" x2="168.66" y2="65.66" stroke="#000" stroke-width="1.5"/><polygon points="166.25,70.6 166.50,64.60 170.82,66.71" fill="#000"/>
<line x1="120.6" y1="260" x2="114.68" y2="246.30" stroke="#1c955c" stroke-width="1.5"/><polygon points="112.5,241.25 116.88,245.35 112.48,247.25" fill="#1c955c"/>
</svg>
</body></html>
